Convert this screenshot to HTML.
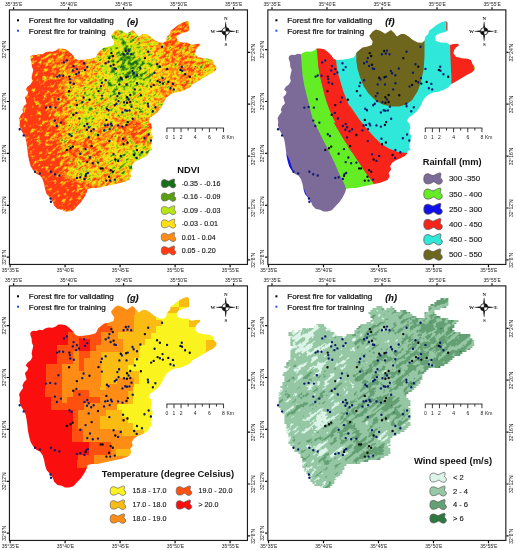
<!DOCTYPE html>
<html><head><meta charset="utf-8"><title>Forest fire conditioning factors</title>
<style>html,body{margin:0;padding:0;background:#fff}svg{display:block}</style></head><body>
<svg width="516" height="550" viewBox="0 0 516 550" font-family="Liberation Sans, Arial, sans-serif">
<defs>
<clipPath id="clip"><path d="M30.7,55.9 L33.3,54.7 L36.6,55.1 L39.1,53.7 L42.5,54.2 L45.0,52.5 L48.3,51.4 L52.5,51.7 L55.8,50.4 L58.3,48.4 L61.7,48.4 L65.9,49.2 L69.2,51.7 L72.6,55.1 L75.1,58.4 L77.6,60.1 L83.4,59.7 L90.1,58.7 L95.2,57.6 L96.7,55.8 L97.9,52.8 L100.9,50.0 L104.2,47.5 L109.3,46.6 L113.4,45.0 L114.3,41.6 L112.6,39.1 L110.9,35.8 L114.3,31.6 L117.6,29.4 L121.8,30.7 L126.8,33.7 L130.2,31.6 L132.7,29.9 L136.0,33.2 L138.5,36.6 L142.7,34.1 L146.1,34.1 L150.2,36.6 L154.4,39.9 L159.4,42.4 L163.6,42.8 L166.1,40.8 L167.0,36.6 L169.9,34.1 L170.7,30.7 L174.0,28.2 L178.2,24.9 L183.3,22.0 L187.4,21.0 L189.1,22.4 L189.1,30.7 L186.6,32.1 L181.6,33.2 L178.2,34.9 L176.6,37.4 L177.4,40.8 L181.6,42.4 L188.3,42.8 L191.6,45.0 L195.0,44.1 L200.0,43.8 L200.3,45.8 L197.5,47.5 L195.8,50.0 L195.0,53.3 L197.5,56.7 L203.3,58.3 L209.2,58.8 L212.5,60.0 L214.2,64.2 L216.7,67.5 L215.9,70.0 L213.4,72.6 L208.3,75.1 L204.2,77.6 L200.0,80.1 L195.8,82.6 L192.5,84.3 L189.9,87.6 L184.9,90.1 L179.9,91.8 L174.9,92.6 L170.7,94.3 L166.5,97.7 L164.0,101.8 L162.3,105.7 L161.1,107.7 L157.8,111.9 L153.6,115.2 L150.2,117.8 L148.6,121.1 L151.1,123.6 L151.9,127.8 L150.7,132.0 L152.8,136.2 L151.9,141.2 L150.7,146.2 L151.9,149.5 L149.4,151.2 L148.6,153.7 L146.1,156.2 L141.0,158.7 L136.9,160.4 L133.5,162.9 L131.8,166.3 L132.7,169.6 L130.2,173.0 L131.3,176.3 L129.3,179.7 L126.0,181.3 L121.0,183.0 L116.8,183.8 L97.5,188.1 L91.8,188.1 L87.6,188.9 L86.8,192.3 L84.3,197.3 L80.9,202.3 L76.8,206.5 L73.4,210.3 L69.2,211.5 L65.0,211.5 L61.7,209.8 L57.5,209.0 L54.2,205.7 L52.5,201.5 L50.0,198.1 L46.6,193.9 L45.0,188.9 L44.1,183.9 L42.5,178.9 L39.9,175.5 L36.6,173.9 L33.3,170.5 L30.7,166.3 L29.1,160.5 L27.9,154.6 L27.4,149.6 L26.6,143.8 L25.7,138.7 L23.2,133.7 L20.7,129.5 L19.5,125.3 L19.9,122.0 L19.0,118.6 L20.7,115.3 L23.2,111.9 L22.4,109.4 L24.0,106.1 L26.6,103.6 L25.7,100.2 L24.9,96.9 L27.4,94.4 L28.2,91.9 L25.7,89.4 L27.4,86.8 L30.7,84.3 L32.4,81.0 L31.6,77.6 L32.4,73.5 L33.3,70.1 L31.9,66.8 L31.6,62.6 L30.2,58.4Z"/></clipPath>
<radialGradient id="gw"><stop offset="0" stop-color="#fff" stop-opacity="1"/><stop offset="0.6" stop-color="#fff" stop-opacity="0.8"/><stop offset="1" stop-color="#fff" stop-opacity="0"/></radialGradient>
<radialGradient id="gb"><stop offset="0" stop-color="#000" stop-opacity="0.75"/><stop offset="0.6" stop-color="#000" stop-opacity="0.5"/><stop offset="1" stop-color="#000" stop-opacity="0"/></radialGradient>
<filter id="fe" x="0" y="0" width="1" height="1" filterUnits="objectBoundingBox" color-interpolation-filters="sRGB"><feTurbulence type="fractalNoise" baseFrequency="0.2 0.36" numOctaves="3" seed="5" result="n"/><feColorMatrix in="n" type="matrix" values="1 0 0 0 0  1 0 0 0 0  1 0 0 0 0  0 0 0 0 1" result="n1"/><feComponentTransfer in="n1" result="n2"><feFuncR type="table" tableValues="0 0.1 0.26 0.39 0.5 0.58 0.65 0.72 0.8 0.9 1"/><feFuncG type="table" tableValues="0 0.1 0.26 0.39 0.5 0.58 0.65 0.72 0.8 0.9 1"/><feFuncB type="table" tableValues="0 0.1 0.26 0.39 0.5 0.58 0.65 0.72 0.8 0.9 1"/></feComponentTransfer><feGaussianBlur in="SourceGraphic" stdDeviation="4.5" result="bl"/><feComposite in="bl" in2="n2" operator="arithmetic" k1="0" k2="1" k3="1.5" k4="-0.86" result="m"/><feComponentTransfer in="m"><feFuncR type="discrete" tableValues="0.102 0.353 0.722 1.000 1.000 1.000"/><feFuncG type="discrete" tableValues="0.431 0.620 0.902 0.878 0.549 0.235"/><feFuncB type="discrete" tableValues="0.102 0.078 0.078 0.078 0.078 0.078"/><feFuncA type="discrete" tableValues="1 1"/></feComponentTransfer><feGaussianBlur stdDeviation="0.5"/></filter>
<clipPath id="clipH"><path d="M30.0,56.0 L32.0,56.0 L32.0,56.0 L34.0,56.0 L34.0,54.0 L36.0,54.0 L36.0,56.0 L38.0,56.0 L38.0,56.0 L40.0,56.0 L40.0,54.0 L42.0,54.0 L42.0,54.0 L44.0,54.0 L44.0,52.0 L46.0,52.0 L46.0,52.0 L48.0,52.0 L48.0,52.0 L50.0,52.0 L50.0,52.0 L52.0,52.0 L52.0,52.0 L54.0,52.0 L54.0,52.0 L56.0,52.0 L56.0,50.0 L58.0,50.0 L58.0,48.0 L60.0,48.0 L60.0,48.0 L62.0,48.0 L62.0,48.0 L64.0,48.0 L64.0,48.0 L66.0,48.0 L66.0,50.0 L68.0,50.0 L68.0,52.0 L70.0,52.0 L70.0,52.0 L72.0,52.0 L72.0,54.0 L72.0,54.0 L72.0,56.0 L74.0,56.0 L74.0,56.0 L76.0,56.0 L76.0,58.0 L78.0,58.0 L78.0,60.0 L80.0,60.0 L80.0,60.0 L82.0,60.0 L82.0,60.0 L84.0,60.0 L84.0,60.0 L86.0,60.0 L86.0,60.0 L88.0,60.0 L88.0,58.0 L90.0,58.0 L90.0,58.0 L92.0,58.0 L92.0,58.0 L94.0,58.0 L94.0,58.0 L96.0,58.0 L96.0,58.0 L96.0,58.0 L96.0,56.0 L96.0,56.0 L96.0,54.0 L98.0,54.0 L98.0,52.0 L100.0,52.0 L100.0,50.0 L102.0,50.0 L102.0,48.0 L104.0,48.0 L104.0,48.0 L106.0,48.0 L106.0,48.0 L108.0,48.0 L108.0,46.0 L110.0,46.0 L110.0,46.0 L112.0,46.0 L112.0,44.0 L114.0,44.0 L114.0,44.0 L114.0,44.0 L114.0,42.0 L112.0,42.0 L112.0,40.0 L112.0,40.0 L112.0,38.0 L110.0,38.0 L110.0,36.0 L112.0,36.0 L112.0,34.0 L114.0,34.0 L114.0,32.0 L116.0,32.0 L116.0,32.0 L118.0,32.0 L118.0,30.0 L120.0,30.0 L120.0,30.0 L122.0,30.0 L122.0,30.0 L124.0,30.0 L124.0,32.0 L126.0,32.0 L126.0,34.0 L128.0,34.0 L128.0,32.0 L130.0,32.0 L130.0,32.0 L132.0,32.0 L132.0,30.0 L134.0,30.0 L134.0,32.0 L136.0,32.0 L136.0,34.0 L138.0,34.0 L138.0,36.0 L140.0,36.0 L140.0,36.0 L142.0,36.0 L142.0,34.0 L144.0,34.0 L144.0,34.0 L146.0,34.0 L146.0,34.0 L148.0,34.0 L148.0,36.0 L150.0,36.0 L150.0,36.0 L152.0,36.0 L152.0,38.0 L154.0,38.0 L154.0,40.0 L156.0,40.0 L156.0,40.0 L158.0,40.0 L158.0,42.0 L160.0,42.0 L160.0,42.0 L162.0,42.0 L162.0,42.0 L164.0,42.0 L164.0,42.0 L166.0,42.0 L166.0,40.0 L166.0,40.0 L166.0,38.0 L166.0,38.0 L166.0,36.0 L168.0,36.0 L168.0,36.0 L170.0,36.0 L170.0,34.0 L170.0,34.0 L170.0,32.0 L170.0,32.0 L170.0,30.0 L172.0,30.0 L172.0,28.0 L174.0,28.0 L174.0,28.0 L176.0,28.0 L176.0,26.0 L178.0,26.0 L178.0,24.0 L180.0,24.0 L180.0,24.0 L182.0,24.0 L182.0,22.0 L184.0,22.0 L184.0,22.0 L186.0,22.0 L186.0,22.0 L188.0,22.0 L188.0,22.0 L190.0,22.0 L190.0,22.0 L190.0,22.0 L190.0,24.0 L190.0,24.0 L190.0,26.0 L190.0,26.0 L190.0,28.0 L190.0,28.0 L190.0,30.0 L188.0,30.0 L188.0,32.0 L186.0,32.0 L186.0,32.0 L184.0,32.0 L184.0,32.0 L182.0,32.0 L182.0,34.0 L180.0,34.0 L180.0,34.0 L178.0,34.0 L178.0,34.0 L176.0,34.0 L176.0,36.0 L176.0,36.0 L176.0,38.0 L178.0,38.0 L178.0,40.0 L180.0,40.0 L180.0,40.0 L182.0,40.0 L182.0,42.0 L184.0,42.0 L184.0,42.0 L186.0,42.0 L186.0,42.0 L188.0,42.0 L188.0,42.0 L190.0,42.0 L190.0,44.0 L192.0,44.0 L192.0,44.0 L194.0,44.0 L194.0,44.0 L196.0,44.0 L196.0,44.0 L198.0,44.0 L198.0,44.0 L200.0,44.0 L200.0,44.0 L200.0,44.0 L200.0,46.0 L198.0,46.0 L198.0,48.0 L196.0,48.0 L196.0,50.0 L196.0,50.0 L196.0,52.0 L194.0,52.0 L194.0,54.0 L196.0,54.0 L196.0,56.0 L198.0,56.0 L198.0,56.0 L200.0,56.0 L200.0,56.0 L202.0,56.0 L202.0,58.0 L204.0,58.0 L204.0,58.0 L206.0,58.0 L206.0,58.0 L208.0,58.0 L208.0,58.0 L210.0,58.0 L210.0,58.0 L212.0,58.0 L212.0,60.0 L212.0,60.0 L212.0,62.0 L214.0,62.0 L214.0,64.0 L216.0,64.0 L216.0,66.0 L216.0,66.0 L216.0,68.0 L216.0,68.0 L216.0,70.0 L214.0,70.0 L214.0,72.0 L212.0,72.0 L212.0,74.0 L210.0,74.0 L210.0,74.0 L208.0,74.0 L208.0,76.0 L206.0,76.0 L206.0,76.0 L204.0,76.0 L204.0,78.0 L202.0,78.0 L202.0,80.0 L200.0,80.0 L200.0,80.0 L198.0,80.0 L198.0,80.0 L196.0,80.0 L196.0,82.0 L194.0,82.0 L194.0,84.0 L192.0,84.0 L192.0,84.0 L192.0,84.0 L192.0,86.0 L190.0,86.0 L190.0,88.0 L188.0,88.0 L188.0,88.0 L186.0,88.0 L186.0,90.0 L184.0,90.0 L184.0,90.0 L182.0,90.0 L182.0,92.0 L180.0,92.0 L180.0,92.0 L178.0,92.0 L178.0,92.0 L176.0,92.0 L176.0,92.0 L174.0,92.0 L174.0,92.0 L172.0,92.0 L172.0,92.0 L170.0,92.0 L170.0,94.0 L168.0,94.0 L168.0,96.0 L166.0,96.0 L166.0,98.0 L164.0,98.0 L164.0,100.0 L164.0,100.0 L164.0,102.0 L164.0,102.0 L164.0,104.0 L162.0,104.0 L162.0,106.0 L162.0,106.0 L162.0,108.0 L160.0,108.0 L160.0,110.0 L158.0,110.0 L158.0,112.0 L156.0,112.0 L156.0,114.0 L154.0,114.0 L154.0,116.0 L152.0,116.0 L152.0,116.0 L150.0,116.0 L150.0,118.0 L148.0,118.0 L148.0,120.0 L148.0,120.0 L148.0,122.0 L150.0,122.0 L150.0,124.0 L152.0,124.0 L152.0,124.0 L152.0,124.0 L152.0,126.0 L152.0,126.0 L152.0,128.0 L152.0,128.0 L152.0,130.0 L150.0,130.0 L150.0,132.0 L152.0,132.0 L152.0,134.0 L152.0,134.0 L152.0,136.0 L152.0,136.0 L152.0,138.0 L152.0,138.0 L152.0,140.0 L152.0,140.0 L152.0,142.0 L152.0,142.0 L152.0,144.0 L150.0,144.0 L150.0,146.0 L152.0,146.0 L152.0,148.0 L152.0,148.0 L152.0,150.0 L150.0,150.0 L150.0,152.0 L148.0,152.0 L148.0,154.0 L146.0,154.0 L146.0,156.0 L144.0,156.0 L144.0,156.0 L142.0,156.0 L142.0,158.0 L140.0,158.0 L140.0,158.0 L138.0,158.0 L138.0,160.0 L136.0,160.0 L136.0,160.0 L134.0,160.0 L134.0,162.0 L132.0,162.0 L132.0,164.0 L132.0,164.0 L132.0,166.0 L132.0,166.0 L132.0,168.0 L132.0,168.0 L132.0,170.0 L130.0,170.0 L130.0,172.0 L132.0,172.0 L132.0,174.0 L132.0,174.0 L132.0,176.0 L132.0,176.0 L132.0,178.0 L130.0,178.0 L130.0,180.0 L128.0,180.0 L128.0,180.0 L126.0,180.0 L126.0,182.0 L124.0,182.0 L124.0,182.0 L122.0,182.0 L122.0,184.0 L120.0,184.0 L120.0,184.0 L118.0,184.0 L118.0,184.0 L116.0,184.0 L116.0,184.0 L114.0,184.0 L114.0,184.0 L112.0,184.0 L112.0,184.0 L110.0,184.0 L110.0,186.0 L108.0,186.0 L108.0,186.0 L106.0,186.0 L106.0,186.0 L104.0,186.0 L104.0,186.0 L102.0,186.0 L102.0,188.0 L100.0,188.0 L100.0,188.0 L98.0,188.0 L98.0,188.0 L96.0,188.0 L96.0,188.0 L94.0,188.0 L94.0,188.0 L92.0,188.0 L92.0,188.0 L90.0,188.0 L90.0,188.0 L88.0,188.0 L88.0,188.0 L88.0,188.0 L88.0,190.0 L86.0,190.0 L86.0,192.0 L86.0,192.0 L86.0,194.0 L84.0,194.0 L84.0,196.0 L84.0,196.0 L84.0,198.0 L82.0,198.0 L82.0,200.0 L80.0,200.0 L80.0,202.0 L78.0,202.0 L78.0,204.0 L76.0,204.0 L76.0,206.0 L76.0,206.0 L76.0,208.0 L74.0,208.0 L74.0,210.0 L72.0,210.0 L72.0,212.0 L70.0,212.0 L70.0,212.0 L68.0,212.0 L68.0,212.0 L66.0,212.0 L66.0,212.0 L64.0,212.0 L64.0,212.0 L62.0,212.0 L62.0,210.0 L60.0,210.0 L60.0,210.0 L58.0,210.0 L58.0,210.0 L56.0,210.0 L56.0,208.0 L54.0,208.0 L54.0,206.0 L52.0,206.0 L52.0,204.0 L52.0,204.0 L52.0,202.0 L52.0,202.0 L52.0,200.0 L50.0,200.0 L50.0,198.0 L48.0,198.0 L48.0,196.0 L46.0,196.0 L46.0,194.0 L46.0,194.0 L46.0,192.0 L44.0,192.0 L44.0,190.0 L44.0,190.0 L44.0,188.0 L44.0,188.0 L44.0,186.0 L44.0,186.0 L44.0,184.0 L44.0,184.0 L44.0,182.0 L42.0,182.0 L42.0,180.0 L42.0,180.0 L42.0,178.0 L40.0,178.0 L40.0,176.0 L38.0,176.0 L38.0,176.0 L36.0,176.0 L36.0,174.0 L36.0,174.0 L36.0,172.0 L34.0,172.0 L34.0,170.0 L32.0,170.0 L32.0,168.0 L30.0,168.0 L30.0,166.0 L30.0,166.0 L30.0,164.0 L30.0,164.0 L30.0,162.0 L30.0,162.0 L30.0,160.0 L30.0,160.0 L30.0,158.0 L28.0,158.0 L28.0,156.0 L28.0,156.0 L28.0,154.0 L28.0,154.0 L28.0,152.0 L28.0,152.0 L28.0,150.0 L28.0,150.0 L28.0,148.0 L26.0,148.0 L26.0,146.0 L26.0,146.0 L26.0,144.0 L26.0,144.0 L26.0,142.0 L26.0,142.0 L26.0,140.0 L26.0,140.0 L26.0,138.0 L24.0,138.0 L24.0,136.0 L24.0,136.0 L24.0,134.0 L22.0,134.0 L22.0,132.0 L20.0,132.0 L20.0,130.0 L20.0,130.0 L20.0,128.0 L20.0,128.0 L20.0,126.0 L20.0,126.0 L20.0,124.0 L20.0,124.0 L20.0,122.0 L20.0,122.0 L20.0,120.0 L20.0,120.0 L20.0,118.0 L20.0,118.0 L20.0,116.0 L22.0,116.0 L22.0,114.0 L24.0,114.0 L24.0,112.0 L22.0,112.0 L22.0,110.0 L24.0,110.0 L24.0,108.0 L24.0,108.0 L24.0,106.0 L26.0,106.0 L26.0,104.0 L26.0,104.0 L26.0,102.0 L26.0,102.0 L26.0,100.0 L24.0,100.0 L24.0,98.0 L24.0,98.0 L24.0,96.0 L26.0,96.0 L26.0,96.0 L28.0,96.0 L28.0,94.0 L28.0,94.0 L28.0,92.0 L26.0,92.0 L26.0,90.0 L28.0,90.0 L28.0,88.0 L28.0,88.0 L28.0,86.0 L30.0,86.0 L30.0,84.0 L32.0,84.0 L32.0,82.0 L32.0,82.0 L32.0,80.0 L32.0,80.0 L32.0,78.0 L32.0,78.0 L32.0,76.0 L32.0,76.0 L32.0,74.0 L32.0,74.0 L32.0,72.0 L34.0,72.0 L34.0,70.0 L32.0,70.0 L32.0,68.0 L32.0,68.0 L32.0,66.0 L32.0,66.0 L32.0,64.0 L32.0,64.0 L32.0,62.0 L32.0,62.0 L32.0,60.0 L30.0,60.0 L30.0,58.0 L30.0,58.0Z"/></clipPath>
<filter id="fh" x="0" y="0" width="1" height="1" color-interpolation-filters="sRGB"><feTurbulence type="fractalNoise" baseFrequency="0.06 0.27" numOctaves="3" seed="11" result="na"/><feTurbulence type="fractalNoise" baseFrequency="0.19" numOctaves="3" seed="4" result="nb"/><feComposite in="na" in2="nb" operator="arithmetic" k1="0" k2="0.62" k3="0.38" k4="0" result="n"/><feColorMatrix in="n" type="matrix" values="1 0 0 0 0  1 0 0 0 0  1 0 0 0 0  0 0 0 0 1" result="n2"/><feGaussianBlur in="SourceGraphic" stdDeviation="3.5" result="bl"/><feComposite in="bl" in2="n2" operator="arithmetic" k1="0" k2="1" k3="1.5" k4="-0.775" result="m"/><feComponentTransfer in="m"><feFuncR type="discrete" tableValues="0.863 0.863 0.863 0.863 0.588 0.588 0.588 0.588 0.588 0.588 0.588 0.588 0.392 0.392 0.392 0.392 0.392 0.392 0.392 0.180"/><feFuncG type="discrete" tableValues="0.961 0.961 0.961 0.961 0.784 0.784 0.784 0.784 0.784 0.784 0.784 0.784 0.627 0.627 0.627 0.627 0.627 0.627 0.627 0.471"/><feFuncB type="discrete" tableValues="0.910 0.910 0.910 0.910 0.647 0.647 0.647 0.647 0.647 0.647 0.647 0.647 0.451 0.451 0.451 0.451 0.451 0.451 0.451 0.251"/><feFuncA type="discrete" tableValues="1 1"/></feComponentTransfer><feGaussianBlur stdDeviation="0.4"/></filter>
<g id="dots"><path d="M65.7,60.4a1.18,1.18 0 1 0 2.36,0a1.18,1.18 0 1 0 -2.36,0zM62.7,62.4a1.18,1.18 0 1 0 2.36,0a1.18,1.18 0 1 0 -2.36,0zM82.9,63.2a1.18,1.18 0 1 0 2.36,0a1.18,1.18 0 1 0 -2.36,0zM86.1,67.1a1.18,1.18 0 1 0 2.36,0a1.18,1.18 0 1 0 -2.36,0zM72.4,66.1a1.18,1.18 0 1 0 2.36,0a1.18,1.18 0 1 0 -2.36,0zM71.6,70.4a1.18,1.18 0 1 0 2.36,0a1.18,1.18 0 1 0 -2.36,0zM75.7,69.1a1.18,1.18 0 1 0 2.36,0a1.18,1.18 0 1 0 -2.36,0zM83.8,69.9a1.18,1.18 0 1 0 2.36,0a1.18,1.18 0 1 0 -2.36,0zM74.9,74.1a1.18,1.18 0 1 0 2.36,0a1.18,1.18 0 1 0 -2.36,0zM77.8,72.4a1.18,1.18 0 1 0 2.36,0a1.18,1.18 0 1 0 -2.36,0zM56.0,76.6a1.18,1.18 0 1 0 2.36,0a1.18,1.18 0 1 0 -2.36,0zM58.2,75.5a1.18,1.18 0 1 0 2.36,0a1.18,1.18 0 1 0 -2.36,0zM62.0,75.8a1.18,1.18 0 1 0 2.36,0a1.18,1.18 0 1 0 -2.36,0zM68.7,79.1a1.18,1.18 0 1 0 2.36,0a1.18,1.18 0 1 0 -2.36,0zM69.1,82.5a1.18,1.18 0 1 0 2.36,0a1.18,1.18 0 1 0 -2.36,0zM72.7,83.7a1.18,1.18 0 1 0 2.36,0a1.18,1.18 0 1 0 -2.36,0zM57.3,99.2a1.18,1.18 0 1 0 2.36,0a1.18,1.18 0 1 0 -2.36,0zM82.4,97.5a1.18,1.18 0 1 0 2.36,0a1.18,1.18 0 1 0 -2.36,0zM81.1,102.1a1.18,1.18 0 1 0 2.36,0a1.18,1.18 0 1 0 -2.36,0zM44.8,107.6a1.18,1.18 0 1 0 2.36,0a1.18,1.18 0 1 0 -2.36,0zM49.0,106.9a1.18,1.18 0 1 0 2.36,0a1.18,1.18 0 1 0 -2.36,0zM54.3,107.6a1.18,1.18 0 1 0 2.36,0a1.18,1.18 0 1 0 -2.36,0zM75.2,112.9a1.18,1.18 0 1 0 2.36,0a1.18,1.18 0 1 0 -2.36,0zM78.3,118.5a1.18,1.18 0 1 0 2.36,0a1.18,1.18 0 1 0 -2.36,0zM53.7,120.6a1.18,1.18 0 1 0 2.36,0a1.18,1.18 0 1 0 -2.36,0zM59.8,122.6a1.18,1.18 0 1 0 2.36,0a1.18,1.18 0 1 0 -2.36,0zM55.7,126.0a1.18,1.18 0 1 0 2.36,0a1.18,1.18 0 1 0 -2.36,0zM83.3,126.0a1.18,1.18 0 1 0 2.36,0a1.18,1.18 0 1 0 -2.36,0zM86.1,124.0a1.18,1.18 0 1 0 2.36,0a1.18,1.18 0 1 0 -2.36,0zM87.5,127.2a1.18,1.18 0 1 0 2.36,0a1.18,1.18 0 1 0 -2.36,0zM92.5,129.3a1.18,1.18 0 1 0 2.36,0a1.18,1.18 0 1 0 -2.36,0zM85.8,129.7a1.18,1.18 0 1 0 2.36,0a1.18,1.18 0 1 0 -2.36,0zM90.0,131.3a1.18,1.18 0 1 0 2.36,0a1.18,1.18 0 1 0 -2.36,0zM18.5,129.3a1.18,1.18 0 1 0 2.36,0a1.18,1.18 0 1 0 -2.36,0zM68.2,134.3a1.18,1.18 0 1 0 2.36,0a1.18,1.18 0 1 0 -2.36,0zM160.9,46.8a1.18,1.18 0 1 0 2.36,0a1.18,1.18 0 1 0 -2.36,0zM147.0,51.8a1.18,1.18 0 1 0 2.36,0a1.18,1.18 0 1 0 -2.36,0zM127.4,50.6a1.18,1.18 0 1 0 2.36,0a1.18,1.18 0 1 0 -2.36,0zM122.4,54.3a1.18,1.18 0 1 0 2.36,0a1.18,1.18 0 1 0 -2.36,0zM126.3,53.5a1.18,1.18 0 1 0 2.36,0a1.18,1.18 0 1 0 -2.36,0zM130.0,54.3a1.18,1.18 0 1 0 2.36,0a1.18,1.18 0 1 0 -2.36,0zM108.2,58.1a1.18,1.18 0 1 0 2.36,0a1.18,1.18 0 1 0 -2.36,0zM107.4,61.8a1.18,1.18 0 1 0 2.36,0a1.18,1.18 0 1 0 -2.36,0zM104.5,63.2a1.18,1.18 0 1 0 2.36,0a1.18,1.18 0 1 0 -2.36,0zM109.5,66.0a1.18,1.18 0 1 0 2.36,0a1.18,1.18 0 1 0 -2.36,0zM113.2,68.5a1.18,1.18 0 1 0 2.36,0a1.18,1.18 0 1 0 -2.36,0zM114.6,68.9a1.18,1.18 0 1 0 2.36,0a1.18,1.18 0 1 0 -2.36,0zM155.9,64.3a1.18,1.18 0 1 0 2.36,0a1.18,1.18 0 1 0 -2.36,0zM165.9,68.9a1.18,1.18 0 1 0 2.36,0a1.18,1.18 0 1 0 -2.36,0zM139.2,68.5a1.18,1.18 0 1 0 2.36,0a1.18,1.18 0 1 0 -2.36,0zM131.3,71.0a1.18,1.18 0 1 0 2.36,0a1.18,1.18 0 1 0 -2.36,0zM132.5,73.2a1.18,1.18 0 1 0 2.36,0a1.18,1.18 0 1 0 -2.36,0zM135.8,75.2a1.18,1.18 0 1 0 2.36,0a1.18,1.18 0 1 0 -2.36,0zM153.4,72.7a1.18,1.18 0 1 0 2.36,0a1.18,1.18 0 1 0 -2.36,0zM126.6,76.6a1.18,1.18 0 1 0 2.36,0a1.18,1.18 0 1 0 -2.36,0zM120.8,79.4a1.18,1.18 0 1 0 2.36,0a1.18,1.18 0 1 0 -2.36,0zM161.4,78.1a1.18,1.18 0 1 0 2.36,0a1.18,1.18 0 1 0 -2.36,0zM158.7,82.2a1.18,1.18 0 1 0 2.36,0a1.18,1.18 0 1 0 -2.36,0zM171.8,83.9a1.18,1.18 0 1 0 2.36,0a1.18,1.18 0 1 0 -2.36,0zM104.5,80.2a1.18,1.18 0 1 0 2.36,0a1.18,1.18 0 1 0 -2.36,0zM100.7,82.7a1.18,1.18 0 1 0 2.36,0a1.18,1.18 0 1 0 -2.36,0zM99.8,86.1a1.18,1.18 0 1 0 2.36,0a1.18,1.18 0 1 0 -2.36,0zM118.2,84.4a1.18,1.18 0 1 0 2.36,0a1.18,1.18 0 1 0 -2.36,0zM125.4,84.4a1.18,1.18 0 1 0 2.36,0a1.18,1.18 0 1 0 -2.36,0zM135.8,83.2a1.18,1.18 0 1 0 2.36,0a1.18,1.18 0 1 0 -2.36,0zM150.0,86.6a1.18,1.18 0 1 0 2.36,0a1.18,1.18 0 1 0 -2.36,0zM169.3,88.3a1.18,1.18 0 1 0 2.36,0a1.18,1.18 0 1 0 -2.36,0zM172.6,89.4a1.18,1.18 0 1 0 2.36,0a1.18,1.18 0 1 0 -2.36,0zM133.6,89.4a1.18,1.18 0 1 0 2.36,0a1.18,1.18 0 1 0 -2.36,0zM117.9,93.3a1.18,1.18 0 1 0 2.36,0a1.18,1.18 0 1 0 -2.36,0zM100.7,95.6a1.18,1.18 0 1 0 2.36,0a1.18,1.18 0 1 0 -2.36,0zM116.2,96.1a1.18,1.18 0 1 0 2.36,0a1.18,1.18 0 1 0 -2.36,0zM127.4,99.5a1.18,1.18 0 1 0 2.36,0a1.18,1.18 0 1 0 -2.36,0zM117.4,101.1a1.18,1.18 0 1 0 2.36,0a1.18,1.18 0 1 0 -2.36,0zM122.9,102.3a1.18,1.18 0 1 0 2.36,0a1.18,1.18 0 1 0 -2.36,0zM115.2,103.7a1.18,1.18 0 1 0 2.36,0a1.18,1.18 0 1 0 -2.36,0zM113.6,105.3a1.18,1.18 0 1 0 2.36,0a1.18,1.18 0 1 0 -2.36,0zM146.7,103.7a1.18,1.18 0 1 0 2.36,0a1.18,1.18 0 1 0 -2.36,0zM147.0,106.2a1.18,1.18 0 1 0 2.36,0a1.18,1.18 0 1 0 -2.36,0zM154.2,107.3a1.18,1.18 0 1 0 2.36,0a1.18,1.18 0 1 0 -2.36,0zM130.3,106.7a1.18,1.18 0 1 0 2.36,0a1.18,1.18 0 1 0 -2.36,0zM105.7,108.7a1.18,1.18 0 1 0 2.36,0a1.18,1.18 0 1 0 -2.36,0zM107.4,110.3a1.18,1.18 0 1 0 2.36,0a1.18,1.18 0 1 0 -2.36,0zM124.1,110.3a1.18,1.18 0 1 0 2.36,0a1.18,1.18 0 1 0 -2.36,0zM151.7,111.2a1.18,1.18 0 1 0 2.36,0a1.18,1.18 0 1 0 -2.36,0zM183.9,74.2a1.18,1.18 0 1 0 2.36,0a1.18,1.18 0 1 0 -2.36,0zM180.6,66.7a1.18,1.18 0 1 0 2.36,0a1.18,1.18 0 1 0 -2.36,0zM180.9,70.8a1.18,1.18 0 1 0 2.36,0a1.18,1.18 0 1 0 -2.36,0zM22.5,135.4a1.18,1.18 0 1 0 2.36,0a1.18,1.18 0 1 0 -2.36,0zM70.4,136.0a1.18,1.18 0 1 0 2.36,0a1.18,1.18 0 1 0 -2.36,0zM87.5,137.4a1.18,1.18 0 1 0 2.36,0a1.18,1.18 0 1 0 -2.36,0zM84.4,149.1a1.18,1.18 0 1 0 2.36,0a1.18,1.18 0 1 0 -2.36,0zM79.1,153.8a1.18,1.18 0 1 0 2.36,0a1.18,1.18 0 1 0 -2.36,0zM88.8,157.5a1.18,1.18 0 1 0 2.36,0a1.18,1.18 0 1 0 -2.36,0zM86.1,162.1a1.18,1.18 0 1 0 2.36,0a1.18,1.18 0 1 0 -2.36,0zM91.6,163.3a1.18,1.18 0 1 0 2.36,0a1.18,1.18 0 1 0 -2.36,0zM33.9,171.7a1.18,1.18 0 1 0 2.36,0a1.18,1.18 0 1 0 -2.36,0zM38.6,173.4a1.18,1.18 0 1 0 2.36,0a1.18,1.18 0 1 0 -2.36,0zM49.8,171.7a1.18,1.18 0 1 0 2.36,0a1.18,1.18 0 1 0 -2.36,0zM53.7,174.2a1.18,1.18 0 1 0 2.36,0a1.18,1.18 0 1 0 -2.36,0zM58.2,175.5a1.18,1.18 0 1 0 2.36,0a1.18,1.18 0 1 0 -2.36,0zM86.6,172.9a1.18,1.18 0 1 0 2.36,0a1.18,1.18 0 1 0 -2.36,0zM84.9,174.2a1.18,1.18 0 1 0 2.36,0a1.18,1.18 0 1 0 -2.36,0zM75.7,177.9a1.18,1.18 0 1 0 2.36,0a1.18,1.18 0 1 0 -2.36,0zM79.1,177.2a1.18,1.18 0 1 0 2.36,0a1.18,1.18 0 1 0 -2.36,0zM83.3,178.9a1.18,1.18 0 1 0 2.36,0a1.18,1.18 0 1 0 -2.36,0zM49.3,198.5a1.18,1.18 0 1 0 2.36,0a1.18,1.18 0 1 0 -2.36,0zM49.8,201.8a1.18,1.18 0 1 0 2.36,0a1.18,1.18 0 1 0 -2.36,0zM125.8,110.7a1.18,1.18 0 1 0 2.36,0a1.18,1.18 0 1 0 -2.36,0zM128.3,110.4a1.18,1.18 0 1 0 2.36,0a1.18,1.18 0 1 0 -2.36,0zM121.3,112.4a1.18,1.18 0 1 0 2.36,0a1.18,1.18 0 1 0 -2.36,0zM131.6,118.7a1.18,1.18 0 1 0 2.36,0a1.18,1.18 0 1 0 -2.36,0zM109.9,123.7a1.18,1.18 0 1 0 2.36,0a1.18,1.18 0 1 0 -2.36,0zM104.0,125.4a1.18,1.18 0 1 0 2.36,0a1.18,1.18 0 1 0 -2.36,0zM106.5,124.9a1.18,1.18 0 1 0 2.36,0a1.18,1.18 0 1 0 -2.36,0zM110.7,125.4a1.18,1.18 0 1 0 2.36,0a1.18,1.18 0 1 0 -2.36,0zM116.9,125.4a1.18,1.18 0 1 0 2.36,0a1.18,1.18 0 1 0 -2.36,0zM121.3,126.6a1.18,1.18 0 1 0 2.36,0a1.18,1.18 0 1 0 -2.36,0zM108.5,129.1a1.18,1.18 0 1 0 2.36,0a1.18,1.18 0 1 0 -2.36,0zM102.9,130.4a1.18,1.18 0 1 0 2.36,0a1.18,1.18 0 1 0 -2.36,0zM147.5,134.5a1.18,1.18 0 1 0 2.36,0a1.18,1.18 0 1 0 -2.36,0zM143.3,138.3a1.18,1.18 0 1 0 2.36,0a1.18,1.18 0 1 0 -2.36,0zM121.9,138.8a1.18,1.18 0 1 0 2.36,0a1.18,1.18 0 1 0 -2.36,0zM149.7,140.5a1.18,1.18 0 1 0 2.36,0a1.18,1.18 0 1 0 -2.36,0zM108.2,141.1a1.18,1.18 0 1 0 2.36,0a1.18,1.18 0 1 0 -2.36,0zM135.8,150.0a1.18,1.18 0 1 0 2.36,0a1.18,1.18 0 1 0 -2.36,0zM140.8,152.2a1.18,1.18 0 1 0 2.36,0a1.18,1.18 0 1 0 -2.36,0zM112.4,154.2a1.18,1.18 0 1 0 2.36,0a1.18,1.18 0 1 0 -2.36,0zM119.6,155.9a1.18,1.18 0 1 0 2.36,0a1.18,1.18 0 1 0 -2.36,0zM135.5,157.9a1.18,1.18 0 1 0 2.36,0a1.18,1.18 0 1 0 -2.36,0zM116.9,160.9a1.18,1.18 0 1 0 2.36,0a1.18,1.18 0 1 0 -2.36,0zM96.8,162.6a1.18,1.18 0 1 0 2.36,0a1.18,1.18 0 1 0 -2.36,0zM109.0,180.6a1.18,1.18 0 1 0 2.36,0a1.18,1.18 0 1 0 -2.36,0zM113.6,179.6a1.18,1.18 0 1 0 2.36,0a1.18,1.18 0 1 0 -2.36,0z" fill="#0c1a6e"/><path d="M68.2,76.6a1.18,1.18 0 1 0 2.36,0a1.18,1.18 0 1 0 -2.36,0zM67.9,91.2a1.18,1.18 0 1 0 2.36,0a1.18,1.18 0 1 0 -2.36,0zM88.3,99.7a1.18,1.18 0 1 0 2.36,0a1.18,1.18 0 1 0 -2.36,0zM75.7,105.1a1.18,1.18 0 1 0 2.36,0a1.18,1.18 0 1 0 -2.36,0zM72.1,114.8a1.18,1.18 0 1 0 2.36,0a1.18,1.18 0 1 0 -2.36,0zM124.6,51.0a1.18,1.18 0 1 0 2.36,0a1.18,1.18 0 1 0 -2.36,0zM110.2,53.1a1.18,1.18 0 1 0 2.36,0a1.18,1.18 0 1 0 -2.36,0zM111.6,56.0a1.18,1.18 0 1 0 2.36,0a1.18,1.18 0 1 0 -2.36,0zM143.7,58.1a1.18,1.18 0 1 0 2.36,0a1.18,1.18 0 1 0 -2.36,0zM112.4,64.8a1.18,1.18 0 1 0 2.36,0a1.18,1.18 0 1 0 -2.36,0zM158.7,66.8a1.18,1.18 0 1 0 2.36,0a1.18,1.18 0 1 0 -2.36,0zM179.3,69.9a1.18,1.18 0 1 0 2.36,0a1.18,1.18 0 1 0 -2.36,0zM119.6,77.7a1.18,1.18 0 1 0 2.36,0a1.18,1.18 0 1 0 -2.36,0zM124.9,77.2a1.18,1.18 0 1 0 2.36,0a1.18,1.18 0 1 0 -2.36,0zM156.4,81.1a1.18,1.18 0 1 0 2.36,0a1.18,1.18 0 1 0 -2.36,0zM161.7,83.6a1.18,1.18 0 1 0 2.36,0a1.18,1.18 0 1 0 -2.36,0zM167.1,81.9a1.18,1.18 0 1 0 2.36,0a1.18,1.18 0 1 0 -2.36,0zM152.5,84.9a1.18,1.18 0 1 0 2.36,0a1.18,1.18 0 1 0 -2.36,0zM97.3,91.1a1.18,1.18 0 1 0 2.36,0a1.18,1.18 0 1 0 -2.36,0zM129.1,95.0a1.18,1.18 0 1 0 2.36,0a1.18,1.18 0 1 0 -2.36,0zM139.7,95.3a1.18,1.18 0 1 0 2.36,0a1.18,1.18 0 1 0 -2.36,0zM125.8,97.3a1.18,1.18 0 1 0 2.36,0a1.18,1.18 0 1 0 -2.36,0zM125.8,102.8a1.18,1.18 0 1 0 2.36,0a1.18,1.18 0 1 0 -2.36,0zM129.1,102.0a1.18,1.18 0 1 0 2.36,0a1.18,1.18 0 1 0 -2.36,0zM188.6,76.7a1.18,1.18 0 1 0 2.36,0a1.18,1.18 0 1 0 -2.36,0zM71.6,146.6a1.18,1.18 0 1 0 2.36,0a1.18,1.18 0 1 0 -2.36,0zM69.4,148.3a1.18,1.18 0 1 0 2.36,0a1.18,1.18 0 1 0 -2.36,0zM65.7,149.9a1.18,1.18 0 1 0 2.36,0a1.18,1.18 0 1 0 -2.36,0zM90.5,146.1a1.18,1.18 0 1 0 2.36,0a1.18,1.18 0 1 0 -2.36,0zM84.4,175.9a1.18,1.18 0 1 0 2.36,0a1.18,1.18 0 1 0 -2.36,0zM105.2,119.9a1.18,1.18 0 1 0 2.36,0a1.18,1.18 0 1 0 -2.36,0zM126.6,122.1a1.18,1.18 0 1 0 2.36,0a1.18,1.18 0 1 0 -2.36,0zM125.3,124.9a1.18,1.18 0 1 0 2.36,0a1.18,1.18 0 1 0 -2.36,0zM96.8,135.0a1.18,1.18 0 1 0 2.36,0a1.18,1.18 0 1 0 -2.36,0zM126.3,142.5a1.18,1.18 0 1 0 2.36,0a1.18,1.18 0 1 0 -2.36,0zM122.4,144.2a1.18,1.18 0 1 0 2.36,0a1.18,1.18 0 1 0 -2.36,0zM133.0,155.0a1.18,1.18 0 1 0 2.36,0a1.18,1.18 0 1 0 -2.36,0zM114.1,159.5a1.18,1.18 0 1 0 2.36,0a1.18,1.18 0 1 0 -2.36,0zM99.5,168.4a1.18,1.18 0 1 0 2.36,0a1.18,1.18 0 1 0 -2.36,0zM101.5,168.4a1.18,1.18 0 1 0 2.36,0a1.18,1.18 0 1 0 -2.36,0zM109.5,170.1a1.18,1.18 0 1 0 2.36,0a1.18,1.18 0 1 0 -2.36,0zM111.6,171.8a1.18,1.18 0 1 0 2.36,0a1.18,1.18 0 1 0 -2.36,0zM107.9,176.8a1.18,1.18 0 1 0 2.36,0a1.18,1.18 0 1 0 -2.36,0zM105.2,180.6a1.18,1.18 0 1 0 2.36,0a1.18,1.18 0 1 0 -2.36,0z" fill="#0a0a0a"/></g>
</defs>
<rect width="516" height="550" fill="#fff"/>
<g transform="translate(0,0)">
<g clip-path="url(#clip)">
<g transform="rotate(-35 120 120)"><g filter="url(#fe)"><g transform="rotate(35 120 120)">
<rect x="12" y="12" width="12.5" height="12.5" fill="#fcfcfc"/>
<rect x="24" y="12" width="12.5" height="12.5" fill="#fcfcfc"/>
<rect x="36" y="12" width="12.5" height="12.5" fill="#ebebeb"/>
<rect x="48" y="12" width="12.5" height="12.5" fill="#d0d0d0"/>
<rect x="60" y="12" width="12.5" height="12.5" fill="#e0e0e0"/>
<rect x="72" y="12" width="12.5" height="12.5" fill="#e0e0e0"/>
<rect x="84" y="12" width="12.5" height="12.5" fill="#747474"/>
<rect x="96" y="12" width="12.5" height="12.5" fill="#747474"/>
<rect x="108" y="12" width="12.5" height="12.5" fill="#747474"/>
<rect x="120" y="12" width="12.5" height="12.5" fill="#848484"/>
<rect x="132" y="12" width="12.5" height="12.5" fill="#9f9f9f"/>
<rect x="144" y="12" width="12.5" height="12.5" fill="#8f8f8f"/>
<rect x="156" y="12" width="12.5" height="12.5" fill="#d0d0d0"/>
<rect x="168" y="12" width="12.5" height="12.5" fill="#d0d0d0"/>
<rect x="180" y="12" width="12.5" height="12.5" fill="#d0d0d0"/>
<rect x="192" y="12" width="12.5" height="12.5" fill="#d0d0d0"/>
<rect x="204" y="12" width="12.5" height="12.5" fill="#b5b5b5"/>
<rect x="216" y="12" width="12.5" height="12.5" fill="#b5b5b5"/>
<rect x="228" y="12" width="12.5" height="12.5" fill="#9f9f9f"/>
<rect x="12" y="24" width="12.5" height="12.5" fill="#fcfcfc"/>
<rect x="24" y="24" width="12.5" height="12.5" fill="#fcfcfc"/>
<rect x="36" y="24" width="12.5" height="12.5" fill="#ebebeb"/>
<rect x="48" y="24" width="12.5" height="12.5" fill="#d0d0d0"/>
<rect x="60" y="24" width="12.5" height="12.5" fill="#e0e0e0"/>
<rect x="72" y="24" width="12.5" height="12.5" fill="#e0e0e0"/>
<rect x="84" y="24" width="12.5" height="12.5" fill="#747474"/>
<rect x="96" y="24" width="12.5" height="12.5" fill="#747474"/>
<rect x="108" y="24" width="12.5" height="12.5" fill="#747474"/>
<rect x="120" y="24" width="12.5" height="12.5" fill="#848484"/>
<rect x="132" y="24" width="12.5" height="12.5" fill="#9f9f9f"/>
<rect x="144" y="24" width="12.5" height="12.5" fill="#8f8f8f"/>
<rect x="156" y="24" width="12.5" height="12.5" fill="#d0d0d0"/>
<rect x="168" y="24" width="12.5" height="12.5" fill="#d0d0d0"/>
<rect x="180" y="24" width="12.5" height="12.5" fill="#d0d0d0"/>
<rect x="192" y="24" width="12.5" height="12.5" fill="#d0d0d0"/>
<rect x="204" y="24" width="12.5" height="12.5" fill="#b5b5b5"/>
<rect x="216" y="24" width="12.5" height="12.5" fill="#b5b5b5"/>
<rect x="228" y="24" width="12.5" height="12.5" fill="#9f9f9f"/>
<rect x="12" y="36" width="12.5" height="12.5" fill="#fcfcfc"/>
<rect x="24" y="36" width="12.5" height="12.5" fill="#fcfcfc"/>
<rect x="36" y="36" width="12.5" height="12.5" fill="#ebebeb"/>
<rect x="48" y="36" width="12.5" height="12.5" fill="#d0d0d0"/>
<rect x="60" y="36" width="12.5" height="12.5" fill="#e0e0e0"/>
<rect x="72" y="36" width="12.5" height="12.5" fill="#e0e0e0"/>
<rect x="84" y="36" width="12.5" height="12.5" fill="#c5c5c5"/>
<rect x="96" y="36" width="12.5" height="12.5" fill="#747474"/>
<rect x="108" y="36" width="12.5" height="12.5" fill="#747474"/>
<rect x="120" y="36" width="12.5" height="12.5" fill="#696969"/>
<rect x="132" y="36" width="12.5" height="12.5" fill="#8f8f8f"/>
<rect x="144" y="36" width="12.5" height="12.5" fill="#9f9f9f"/>
<rect x="156" y="36" width="12.5" height="12.5" fill="#c5c5c5"/>
<rect x="168" y="36" width="12.5" height="12.5" fill="#cbcbcb"/>
<rect x="180" y="36" width="12.5" height="12.5" fill="#c5c5c5"/>
<rect x="192" y="36" width="12.5" height="12.5" fill="#b5b5b5"/>
<rect x="204" y="36" width="12.5" height="12.5" fill="#b5b5b5"/>
<rect x="216" y="36" width="12.5" height="12.5" fill="#9f9f9f"/>
<rect x="228" y="36" width="12.5" height="12.5" fill="#9f9f9f"/>
<rect x="12" y="48" width="12.5" height="12.5" fill="#fcfcfc"/>
<rect x="24" y="48" width="12.5" height="12.5" fill="#fcfcfc"/>
<rect x="36" y="48" width="12.5" height="12.5" fill="#ebebeb"/>
<rect x="48" y="48" width="12.5" height="12.5" fill="#d0d0d0"/>
<rect x="60" y="48" width="12.5" height="12.5" fill="#e0e0e0"/>
<rect x="72" y="48" width="12.5" height="12.5" fill="#e0e0e0"/>
<rect x="84" y="48" width="12.5" height="12.5" fill="#c5c5c5"/>
<rect x="96" y="48" width="12.5" height="12.5" fill="#9f9f9f"/>
<rect x="108" y="48" width="12.5" height="12.5" fill="#747474"/>
<rect x="120" y="48" width="12.5" height="12.5" fill="#3d3d3d"/>
<rect x="132" y="48" width="12.5" height="12.5" fill="#696969"/>
<rect x="144" y="48" width="12.5" height="12.5" fill="#949494"/>
<rect x="156" y="48" width="12.5" height="12.5" fill="#aaaaaa"/>
<rect x="168" y="48" width="12.5" height="12.5" fill="#c5c5c5"/>
<rect x="180" y="48" width="12.5" height="12.5" fill="#c0c0c0"/>
<rect x="192" y="48" width="12.5" height="12.5" fill="#afafaf"/>
<rect x="204" y="48" width="12.5" height="12.5" fill="#9f9f9f"/>
<rect x="216" y="48" width="12.5" height="12.5" fill="#9f9f9f"/>
<rect x="228" y="48" width="12.5" height="12.5" fill="#9f9f9f"/>
<rect x="12" y="60" width="12.5" height="12.5" fill="#fcfcfc"/>
<rect x="24" y="60" width="12.5" height="12.5" fill="#fcfcfc"/>
<rect x="36" y="60" width="12.5" height="12.5" fill="#e6e6e6"/>
<rect x="48" y="60" width="12.5" height="12.5" fill="#c0c0c0"/>
<rect x="60" y="60" width="12.5" height="12.5" fill="#c5c5c5"/>
<rect x="72" y="60" width="12.5" height="12.5" fill="#d6d6d6"/>
<rect x="84" y="60" width="12.5" height="12.5" fill="#afafaf"/>
<rect x="96" y="60" width="12.5" height="12.5" fill="#8f8f8f"/>
<rect x="108" y="60" width="12.5" height="12.5" fill="#747474"/>
<rect x="120" y="60" width="12.5" height="12.5" fill="#323232"/>
<rect x="132" y="60" width="12.5" height="12.5" fill="#4e4e4e"/>
<rect x="144" y="60" width="12.5" height="12.5" fill="#797979"/>
<rect x="156" y="60" width="12.5" height="12.5" fill="#a5a5a5"/>
<rect x="168" y="60" width="12.5" height="12.5" fill="#b5b5b5"/>
<rect x="180" y="60" width="12.5" height="12.5" fill="#c0c0c0"/>
<rect x="192" y="60" width="12.5" height="12.5" fill="#aaaaaa"/>
<rect x="204" y="60" width="12.5" height="12.5" fill="#9a9a9a"/>
<rect x="216" y="60" width="12.5" height="12.5" fill="#9a9a9a"/>
<rect x="228" y="60" width="12.5" height="12.5" fill="#9a9a9a"/>
<rect x="12" y="72" width="12.5" height="12.5" fill="#fcfcfc"/>
<rect x="24" y="72" width="12.5" height="12.5" fill="#fcfcfc"/>
<rect x="36" y="72" width="12.5" height="12.5" fill="#f6f6f6"/>
<rect x="48" y="72" width="12.5" height="12.5" fill="#d6d6d6"/>
<rect x="60" y="72" width="12.5" height="12.5" fill="#b5b5b5"/>
<rect x="72" y="72" width="12.5" height="12.5" fill="#c5c5c5"/>
<rect x="84" y="72" width="12.5" height="12.5" fill="#aaaaaa"/>
<rect x="96" y="72" width="12.5" height="12.5" fill="#898989"/>
<rect x="108" y="72" width="12.5" height="12.5" fill="#696969"/>
<rect x="120" y="72" width="12.5" height="12.5" fill="#585858"/>
<rect x="132" y="72" width="12.5" height="12.5" fill="#4e4e4e"/>
<rect x="144" y="72" width="12.5" height="12.5" fill="#747474"/>
<rect x="156" y="72" width="12.5" height="12.5" fill="#a5a5a5"/>
<rect x="168" y="72" width="12.5" height="12.5" fill="#afafaf"/>
<rect x="180" y="72" width="12.5" height="12.5" fill="#bababa"/>
<rect x="192" y="72" width="12.5" height="12.5" fill="#aaaaaa"/>
<rect x="204" y="72" width="12.5" height="12.5" fill="#9a9a9a"/>
<rect x="216" y="72" width="12.5" height="12.5" fill="#9a9a9a"/>
<rect x="228" y="72" width="12.5" height="12.5" fill="#9a9a9a"/>
<rect x="12" y="84" width="12.5" height="12.5" fill="#fcfcfc"/>
<rect x="24" y="84" width="12.5" height="12.5" fill="#fcfcfc"/>
<rect x="36" y="84" width="12.5" height="12.5" fill="#f6f6f6"/>
<rect x="48" y="84" width="12.5" height="12.5" fill="#e0e0e0"/>
<rect x="60" y="84" width="12.5" height="12.5" fill="#c0c0c0"/>
<rect x="72" y="84" width="12.5" height="12.5" fill="#8f8f8f"/>
<rect x="84" y="84" width="12.5" height="12.5" fill="#747474"/>
<rect x="96" y="84" width="12.5" height="12.5" fill="#848484"/>
<rect x="108" y="84" width="12.5" height="12.5" fill="#636363"/>
<rect x="120" y="84" width="12.5" height="12.5" fill="#7e7e7e"/>
<rect x="132" y="84" width="12.5" height="12.5" fill="#797979"/>
<rect x="144" y="84" width="12.5" height="12.5" fill="#8f8f8f"/>
<rect x="156" y="84" width="12.5" height="12.5" fill="#aaaaaa"/>
<rect x="168" y="84" width="12.5" height="12.5" fill="#afafaf"/>
<rect x="180" y="84" width="12.5" height="12.5" fill="#bababa"/>
<rect x="192" y="84" width="12.5" height="12.5" fill="#aaaaaa"/>
<rect x="204" y="84" width="12.5" height="12.5" fill="#aaaaaa"/>
<rect x="216" y="84" width="12.5" height="12.5" fill="#9a9a9a"/>
<rect x="228" y="84" width="12.5" height="12.5" fill="#9a9a9a"/>
<rect x="12" y="96" width="12.5" height="12.5" fill="#fcfcfc"/>
<rect x="24" y="96" width="12.5" height="12.5" fill="#fcfcfc"/>
<rect x="36" y="96" width="12.5" height="12.5" fill="#f6f6f6"/>
<rect x="48" y="96" width="12.5" height="12.5" fill="#e0e0e0"/>
<rect x="60" y="96" width="12.5" height="12.5" fill="#bababa"/>
<rect x="72" y="96" width="12.5" height="12.5" fill="#8f8f8f"/>
<rect x="84" y="96" width="12.5" height="12.5" fill="#8f8f8f"/>
<rect x="96" y="96" width="12.5" height="12.5" fill="#9f9f9f"/>
<rect x="108" y="96" width="12.5" height="12.5" fill="#848484"/>
<rect x="120" y="96" width="12.5" height="12.5" fill="#848484"/>
<rect x="132" y="96" width="12.5" height="12.5" fill="#7e7e7e"/>
<rect x="144" y="96" width="12.5" height="12.5" fill="#949494"/>
<rect x="156" y="96" width="12.5" height="12.5" fill="#aaaaaa"/>
<rect x="168" y="96" width="12.5" height="12.5" fill="#afafaf"/>
<rect x="180" y="96" width="12.5" height="12.5" fill="#afafaf"/>
<rect x="192" y="96" width="12.5" height="12.5" fill="#aaaaaa"/>
<rect x="204" y="96" width="12.5" height="12.5" fill="#aaaaaa"/>
<rect x="216" y="96" width="12.5" height="12.5" fill="#aaaaaa"/>
<rect x="228" y="96" width="12.5" height="12.5" fill="#9a9a9a"/>
<rect x="12" y="108" width="12.5" height="12.5" fill="#fcfcfc"/>
<rect x="24" y="108" width="12.5" height="12.5" fill="#fcfcfc"/>
<rect x="36" y="108" width="12.5" height="12.5" fill="#f1f1f1"/>
<rect x="48" y="108" width="12.5" height="12.5" fill="#d0d0d0"/>
<rect x="60" y="108" width="12.5" height="12.5" fill="#afafaf"/>
<rect x="72" y="108" width="12.5" height="12.5" fill="#a5a5a5"/>
<rect x="84" y="108" width="12.5" height="12.5" fill="#6e6e6e"/>
<rect x="96" y="108" width="12.5" height="12.5" fill="#8f8f8f"/>
<rect x="108" y="108" width="12.5" height="12.5" fill="#8f8f8f"/>
<rect x="120" y="108" width="12.5" height="12.5" fill="#8c8c8c"/>
<rect x="132" y="108" width="12.5" height="12.5" fill="#878787"/>
<rect x="144" y="108" width="12.5" height="12.5" fill="#818181"/>
<rect x="156" y="108" width="12.5" height="12.5" fill="#bababa"/>
<rect x="168" y="108" width="12.5" height="12.5" fill="#bababa"/>
<rect x="180" y="108" width="12.5" height="12.5" fill="#c0c0c0"/>
<rect x="192" y="108" width="12.5" height="12.5" fill="#c0c0c0"/>
<rect x="204" y="108" width="12.5" height="12.5" fill="#bababa"/>
<rect x="216" y="108" width="12.5" height="12.5" fill="#bababa"/>
<rect x="228" y="108" width="12.5" height="12.5" fill="#bababa"/>
<rect x="12" y="120" width="12.5" height="12.5" fill="#fcfcfc"/>
<rect x="24" y="120" width="12.5" height="12.5" fill="#f6f6f6"/>
<rect x="36" y="120" width="12.5" height="12.5" fill="#e6e6e6"/>
<rect x="48" y="120" width="12.5" height="12.5" fill="#d6d6d6"/>
<rect x="60" y="120" width="12.5" height="12.5" fill="#b5b5b5"/>
<rect x="72" y="120" width="12.5" height="12.5" fill="#797979"/>
<rect x="84" y="120" width="12.5" height="12.5" fill="#7e7e7e"/>
<rect x="96" y="120" width="12.5" height="12.5" fill="#aaaaaa"/>
<rect x="108" y="120" width="12.5" height="12.5" fill="#aaaaaa"/>
<rect x="120" y="120" width="12.5" height="12.5" fill="#c8c8c8"/>
<rect x="132" y="120" width="12.5" height="12.5" fill="#d8d8d8"/>
<rect x="144" y="120" width="12.5" height="12.5" fill="#b8b8b8"/>
<rect x="156" y="120" width="12.5" height="12.5" fill="#c0c0c0"/>
<rect x="168" y="120" width="12.5" height="12.5" fill="#c0c0c0"/>
<rect x="180" y="120" width="12.5" height="12.5" fill="#bababa"/>
<rect x="192" y="120" width="12.5" height="12.5" fill="#c0c0c0"/>
<rect x="204" y="120" width="12.5" height="12.5" fill="#bababa"/>
<rect x="216" y="120" width="12.5" height="12.5" fill="#bababa"/>
<rect x="228" y="120" width="12.5" height="12.5" fill="#bababa"/>
<rect x="12" y="132" width="12.5" height="12.5" fill="#fcfcfc"/>
<rect x="24" y="132" width="12.5" height="12.5" fill="#fcfcfc"/>
<rect x="36" y="132" width="12.5" height="12.5" fill="#ebebeb"/>
<rect x="48" y="132" width="12.5" height="12.5" fill="#dbdbdb"/>
<rect x="60" y="132" width="12.5" height="12.5" fill="#898989"/>
<rect x="72" y="132" width="12.5" height="12.5" fill="#bababa"/>
<rect x="84" y="132" width="12.5" height="12.5" fill="#c0c0c0"/>
<rect x="96" y="132" width="12.5" height="12.5" fill="#bababa"/>
<rect x="108" y="132" width="12.5" height="12.5" fill="#afafaf"/>
<rect x="120" y="132" width="12.5" height="12.5" fill="#cdcdcd"/>
<rect x="132" y="132" width="12.5" height="12.5" fill="#d3d3d3"/>
<rect x="144" y="132" width="12.5" height="12.5" fill="#b2b2b2"/>
<rect x="156" y="132" width="12.5" height="12.5" fill="#bababa"/>
<rect x="168" y="132" width="12.5" height="12.5" fill="#bababa"/>
<rect x="180" y="132" width="12.5" height="12.5" fill="#bababa"/>
<rect x="192" y="132" width="12.5" height="12.5" fill="#bababa"/>
<rect x="204" y="132" width="12.5" height="12.5" fill="#c0c0c0"/>
<rect x="216" y="132" width="12.5" height="12.5" fill="#bababa"/>
<rect x="228" y="132" width="12.5" height="12.5" fill="#bababa"/>
<rect x="12" y="144" width="12.5" height="12.5" fill="#fcfcfc"/>
<rect x="24" y="144" width="12.5" height="12.5" fill="#fcfcfc"/>
<rect x="36" y="144" width="12.5" height="12.5" fill="#f6f6f6"/>
<rect x="48" y="144" width="12.5" height="12.5" fill="#e6e6e6"/>
<rect x="60" y="144" width="12.5" height="12.5" fill="#c5c5c5"/>
<rect x="72" y="144" width="12.5" height="12.5" fill="#c5c5c5"/>
<rect x="84" y="144" width="12.5" height="12.5" fill="#d0d0d0"/>
<rect x="96" y="144" width="12.5" height="12.5" fill="#b5b5b5"/>
<rect x="108" y="144" width="12.5" height="12.5" fill="#949494"/>
<rect x="120" y="144" width="12.5" height="12.5" fill="#878787"/>
<rect x="132" y="144" width="12.5" height="12.5" fill="#717171"/>
<rect x="144" y="144" width="12.5" height="12.5" fill="#767676"/>
<rect x="156" y="144" width="12.5" height="12.5" fill="#8f8f8f"/>
<rect x="168" y="144" width="12.5" height="12.5" fill="#8f8f8f"/>
<rect x="180" y="144" width="12.5" height="12.5" fill="#8f8f8f"/>
<rect x="192" y="144" width="12.5" height="12.5" fill="#8f8f8f"/>
<rect x="204" y="144" width="12.5" height="12.5" fill="#8f8f8f"/>
<rect x="216" y="144" width="12.5" height="12.5" fill="#8f8f8f"/>
<rect x="228" y="144" width="12.5" height="12.5" fill="#bababa"/>
<rect x="12" y="156" width="12.5" height="12.5" fill="#fcfcfc"/>
<rect x="24" y="156" width="12.5" height="12.5" fill="#fcfcfc"/>
<rect x="36" y="156" width="12.5" height="12.5" fill="#fcfcfc"/>
<rect x="48" y="156" width="12.5" height="12.5" fill="#ebebeb"/>
<rect x="60" y="156" width="12.5" height="12.5" fill="#d0d0d0"/>
<rect x="72" y="156" width="12.5" height="12.5" fill="#afafaf"/>
<rect x="84" y="156" width="12.5" height="12.5" fill="#bababa"/>
<rect x="96" y="156" width="12.5" height="12.5" fill="#9f9f9f"/>
<rect x="108" y="156" width="12.5" height="12.5" fill="#898989"/>
<rect x="120" y="156" width="12.5" height="12.5" fill="#747474"/>
<rect x="132" y="156" width="12.5" height="12.5" fill="#696969"/>
<rect x="144" y="156" width="12.5" height="12.5" fill="#7e7e7e"/>
<rect x="156" y="156" width="12.5" height="12.5" fill="#8f8f8f"/>
<rect x="168" y="156" width="12.5" height="12.5" fill="#8f8f8f"/>
<rect x="180" y="156" width="12.5" height="12.5" fill="#8f8f8f"/>
<rect x="192" y="156" width="12.5" height="12.5" fill="#8f8f8f"/>
<rect x="204" y="156" width="12.5" height="12.5" fill="#8f8f8f"/>
<rect x="216" y="156" width="12.5" height="12.5" fill="#8f8f8f"/>
<rect x="228" y="156" width="12.5" height="12.5" fill="#8f8f8f"/>
<rect x="12" y="168" width="12.5" height="12.5" fill="#fcfcfc"/>
<rect x="24" y="168" width="12.5" height="12.5" fill="#fcfcfc"/>
<rect x="36" y="168" width="12.5" height="12.5" fill="#fcfcfc"/>
<rect x="48" y="168" width="12.5" height="12.5" fill="#f6f6f6"/>
<rect x="60" y="168" width="12.5" height="12.5" fill="#bababa"/>
<rect x="72" y="168" width="12.5" height="12.5" fill="#7e7e7e"/>
<rect x="84" y="168" width="12.5" height="12.5" fill="#898989"/>
<rect x="96" y="168" width="12.5" height="12.5" fill="#afafaf"/>
<rect x="108" y="168" width="12.5" height="12.5" fill="#9f9f9f"/>
<rect x="120" y="168" width="12.5" height="12.5" fill="#9f9f9f"/>
<rect x="132" y="168" width="12.5" height="12.5" fill="#696969"/>
<rect x="144" y="168" width="12.5" height="12.5" fill="#696969"/>
<rect x="156" y="168" width="12.5" height="12.5" fill="#8f8f8f"/>
<rect x="168" y="168" width="12.5" height="12.5" fill="#8f8f8f"/>
<rect x="180" y="168" width="12.5" height="12.5" fill="#8f8f8f"/>
<rect x="192" y="168" width="12.5" height="12.5" fill="#8f8f8f"/>
<rect x="204" y="168" width="12.5" height="12.5" fill="#8f8f8f"/>
<rect x="216" y="168" width="12.5" height="12.5" fill="#8f8f8f"/>
<rect x="228" y="168" width="12.5" height="12.5" fill="#8f8f8f"/>
<rect x="12" y="180" width="12.5" height="12.5" fill="#fcfcfc"/>
<rect x="24" y="180" width="12.5" height="12.5" fill="#fcfcfc"/>
<rect x="36" y="180" width="12.5" height="12.5" fill="#fcfcfc"/>
<rect x="48" y="180" width="12.5" height="12.5" fill="#fcfcfc"/>
<rect x="60" y="180" width="12.5" height="12.5" fill="#f6f6f6"/>
<rect x="72" y="180" width="12.5" height="12.5" fill="#e6e6e6"/>
<rect x="84" y="180" width="12.5" height="12.5" fill="#c5c5c5"/>
<rect x="96" y="180" width="12.5" height="12.5" fill="#b5b5b5"/>
<rect x="108" y="180" width="12.5" height="12.5" fill="#afafaf"/>
<rect x="120" y="180" width="12.5" height="12.5" fill="#afafaf"/>
<rect x="132" y="180" width="12.5" height="12.5" fill="#afafaf"/>
<rect x="144" y="180" width="12.5" height="12.5" fill="#797979"/>
<rect x="156" y="180" width="12.5" height="12.5" fill="#797979"/>
<rect x="168" y="180" width="12.5" height="12.5" fill="#8f8f8f"/>
<rect x="180" y="180" width="12.5" height="12.5" fill="#8f8f8f"/>
<rect x="192" y="180" width="12.5" height="12.5" fill="#8f8f8f"/>
<rect x="204" y="180" width="12.5" height="12.5" fill="#8f8f8f"/>
<rect x="216" y="180" width="12.5" height="12.5" fill="#8f8f8f"/>
<rect x="228" y="180" width="12.5" height="12.5" fill="#8f8f8f"/>
<rect x="12" y="192" width="12.5" height="12.5" fill="#fcfcfc"/>
<rect x="24" y="192" width="12.5" height="12.5" fill="#fcfcfc"/>
<rect x="36" y="192" width="12.5" height="12.5" fill="#fcfcfc"/>
<rect x="48" y="192" width="12.5" height="12.5" fill="#fcfcfc"/>
<rect x="60" y="192" width="12.5" height="12.5" fill="#fcfcfc"/>
<rect x="72" y="192" width="12.5" height="12.5" fill="#f6f6f6"/>
<rect x="84" y="192" width="12.5" height="12.5" fill="#c5c5c5"/>
<rect x="96" y="192" width="12.5" height="12.5" fill="#b5b5b5"/>
<rect x="108" y="192" width="12.5" height="12.5" fill="#afafaf"/>
<rect x="120" y="192" width="12.5" height="12.5" fill="#afafaf"/>
<rect x="132" y="192" width="12.5" height="12.5" fill="#afafaf"/>
<rect x="144" y="192" width="12.5" height="12.5" fill="#afafaf"/>
<rect x="156" y="192" width="12.5" height="12.5" fill="#797979"/>
<rect x="168" y="192" width="12.5" height="12.5" fill="#797979"/>
<rect x="180" y="192" width="12.5" height="12.5" fill="#8f8f8f"/>
<rect x="192" y="192" width="12.5" height="12.5" fill="#8f8f8f"/>
<rect x="204" y="192" width="12.5" height="12.5" fill="#8f8f8f"/>
<rect x="216" y="192" width="12.5" height="12.5" fill="#8f8f8f"/>
<rect x="228" y="192" width="12.5" height="12.5" fill="#8f8f8f"/>
<rect x="12" y="204" width="12.5" height="12.5" fill="#fcfcfc"/>
<rect x="24" y="204" width="12.5" height="12.5" fill="#fcfcfc"/>
<rect x="36" y="204" width="12.5" height="12.5" fill="#fcfcfc"/>
<rect x="48" y="204" width="12.5" height="12.5" fill="#fcfcfc"/>
<rect x="60" y="204" width="12.5" height="12.5" fill="#fcfcfc"/>
<rect x="72" y="204" width="12.5" height="12.5" fill="#f6f6f6"/>
<rect x="84" y="204" width="12.5" height="12.5" fill="#f6f6f6"/>
<rect x="96" y="204" width="12.5" height="12.5" fill="#b5b5b5"/>
<rect x="108" y="204" width="12.5" height="12.5" fill="#afafaf"/>
<rect x="120" y="204" width="12.5" height="12.5" fill="#afafaf"/>
<rect x="132" y="204" width="12.5" height="12.5" fill="#afafaf"/>
<rect x="144" y="204" width="12.5" height="12.5" fill="#afafaf"/>
<rect x="156" y="204" width="12.5" height="12.5" fill="#afafaf"/>
<rect x="168" y="204" width="12.5" height="12.5" fill="#797979"/>
<rect x="180" y="204" width="12.5" height="12.5" fill="#797979"/>
<rect x="192" y="204" width="12.5" height="12.5" fill="#8f8f8f"/>
<rect x="204" y="204" width="12.5" height="12.5" fill="#8f8f8f"/>
<rect x="216" y="204" width="12.5" height="12.5" fill="#8f8f8f"/>
<rect x="228" y="204" width="12.5" height="12.5" fill="#8f8f8f"/>
<rect x="12" y="216" width="12.5" height="12.5" fill="#fcfcfc"/>
<rect x="24" y="216" width="12.5" height="12.5" fill="#fcfcfc"/>
<rect x="36" y="216" width="12.5" height="12.5" fill="#fcfcfc"/>
<rect x="48" y="216" width="12.5" height="12.5" fill="#fcfcfc"/>
<rect x="60" y="216" width="12.5" height="12.5" fill="#fcfcfc"/>
<rect x="72" y="216" width="12.5" height="12.5" fill="#f6f6f6"/>
<rect x="84" y="216" width="12.5" height="12.5" fill="#f6f6f6"/>
<rect x="96" y="216" width="12.5" height="12.5" fill="#f6f6f6"/>
<rect x="108" y="216" width="12.5" height="12.5" fill="#afafaf"/>
<rect x="120" y="216" width="12.5" height="12.5" fill="#afafaf"/>
<rect x="132" y="216" width="12.5" height="12.5" fill="#afafaf"/>
<rect x="144" y="216" width="12.5" height="12.5" fill="#afafaf"/>
<rect x="156" y="216" width="12.5" height="12.5" fill="#afafaf"/>
<rect x="168" y="216" width="12.5" height="12.5" fill="#afafaf"/>
<rect x="180" y="216" width="12.5" height="12.5" fill="#797979"/>
<rect x="192" y="216" width="12.5" height="12.5" fill="#797979"/>
<rect x="204" y="216" width="12.5" height="12.5" fill="#8f8f8f"/>
<rect x="216" y="216" width="12.5" height="12.5" fill="#8f8f8f"/>
<rect x="228" y="216" width="12.5" height="12.5" fill="#8f8f8f"/>
</g></g></g></g>
<text x="188.4" y="173.2" font-size="9.3" font-weight="bold" text-anchor="middle" fill="#111">NDVI</text>
<path d="M1.04,1.61C1.57,1.26 2.67,0.77 3.48,0.77C4.29,0.77 5.16,1.33 5.91,1.61C6.67,1.89 7.19,2.53 8.00,2.45C8.81,2.38 9.80,1.57 10.78,1.16C11.77,0.75 13.25,0.03 13.91,0.00C14.57,-0.03 14.66,0.48 14.75,0.97C14.84,1.45 14.56,2.33 14.47,2.90C14.38,3.47 14.03,3.95 14.19,4.39C14.35,4.83 15.14,5.04 15.44,5.55C15.74,6.05 16.08,6.78 16.00,7.42C15.92,8.05 15.48,8.92 14.96,9.35C14.43,9.78 13.57,10.02 12.87,10.00C12.17,9.98 11.48,9.60 10.78,9.23C10.09,8.85 9.39,7.80 8.70,7.74C8.00,7.69 7.36,8.58 6.61,8.90C5.86,9.23 4.99,9.60 4.17,9.68C3.36,9.75 2.38,9.68 1.74,9.35C1.10,9.03 0.64,8.44 0.35,7.74C0.06,7.04 0.00,5.97 0.00,5.16C0.00,4.35 0.17,3.49 0.35,2.90C0.52,2.31 0.52,1.97 1.04,1.61Z" transform="translate(161.3,178.9) scale(0.906,0.900)" fill="#1a6e1a" stroke="#5a5a5a" stroke-width="0.7"/>
<text x="181.7" y="186.0" font-size="7.1" fill="#1a1a1a" stroke="#1a1a1a" stroke-width="0.15">-0.35 - -0.16</text>
<path d="M1.04,1.61C1.57,1.26 2.67,0.77 3.48,0.77C4.29,0.77 5.16,1.33 5.91,1.61C6.67,1.89 7.19,2.53 8.00,2.45C8.81,2.38 9.80,1.57 10.78,1.16C11.77,0.75 13.25,0.03 13.91,0.00C14.57,-0.03 14.66,0.48 14.75,0.97C14.84,1.45 14.56,2.33 14.47,2.90C14.38,3.47 14.03,3.95 14.19,4.39C14.35,4.83 15.14,5.04 15.44,5.55C15.74,6.05 16.08,6.78 16.00,7.42C15.92,8.05 15.48,8.92 14.96,9.35C14.43,9.78 13.57,10.02 12.87,10.00C12.17,9.98 11.48,9.60 10.78,9.23C10.09,8.85 9.39,7.80 8.70,7.74C8.00,7.69 7.36,8.58 6.61,8.90C5.86,9.23 4.99,9.60 4.17,9.68C3.36,9.75 2.38,9.68 1.74,9.35C1.10,9.03 0.64,8.44 0.35,7.74C0.06,7.04 0.00,5.97 0.00,5.16C0.00,4.35 0.17,3.49 0.35,2.90C0.52,2.31 0.52,1.97 1.04,1.61Z" transform="translate(161.3,192.3) scale(0.906,0.900)" fill="#5a9e14" stroke="#5a5a5a" stroke-width="0.7"/>
<text x="181.7" y="199.4" font-size="7.1" fill="#1a1a1a" stroke="#1a1a1a" stroke-width="0.15">-0.16 - -0.09</text>
<path d="M1.04,1.61C1.57,1.26 2.67,0.77 3.48,0.77C4.29,0.77 5.16,1.33 5.91,1.61C6.67,1.89 7.19,2.53 8.00,2.45C8.81,2.38 9.80,1.57 10.78,1.16C11.77,0.75 13.25,0.03 13.91,0.00C14.57,-0.03 14.66,0.48 14.75,0.97C14.84,1.45 14.56,2.33 14.47,2.90C14.38,3.47 14.03,3.95 14.19,4.39C14.35,4.83 15.14,5.04 15.44,5.55C15.74,6.05 16.08,6.78 16.00,7.42C15.92,8.05 15.48,8.92 14.96,9.35C14.43,9.78 13.57,10.02 12.87,10.00C12.17,9.98 11.48,9.60 10.78,9.23C10.09,8.85 9.39,7.80 8.70,7.74C8.00,7.69 7.36,8.58 6.61,8.90C5.86,9.23 4.99,9.60 4.17,9.68C3.36,9.75 2.38,9.68 1.74,9.35C1.10,9.03 0.64,8.44 0.35,7.74C0.06,7.04 0.00,5.97 0.00,5.16C0.00,4.35 0.17,3.49 0.35,2.90C0.52,2.31 0.52,1.97 1.04,1.61Z" transform="translate(161.3,205.7) scale(0.906,0.900)" fill="#b8e614" stroke="#5a5a5a" stroke-width="0.7"/>
<text x="181.7" y="212.8" font-size="7.1" fill="#1a1a1a" stroke="#1a1a1a" stroke-width="0.15">-0.09 - -0.03</text>
<path d="M1.04,1.61C1.57,1.26 2.67,0.77 3.48,0.77C4.29,0.77 5.16,1.33 5.91,1.61C6.67,1.89 7.19,2.53 8.00,2.45C8.81,2.38 9.80,1.57 10.78,1.16C11.77,0.75 13.25,0.03 13.91,0.00C14.57,-0.03 14.66,0.48 14.75,0.97C14.84,1.45 14.56,2.33 14.47,2.90C14.38,3.47 14.03,3.95 14.19,4.39C14.35,4.83 15.14,5.04 15.44,5.55C15.74,6.05 16.08,6.78 16.00,7.42C15.92,8.05 15.48,8.92 14.96,9.35C14.43,9.78 13.57,10.02 12.87,10.00C12.17,9.98 11.48,9.60 10.78,9.23C10.09,8.85 9.39,7.80 8.70,7.74C8.00,7.69 7.36,8.58 6.61,8.90C5.86,9.23 4.99,9.60 4.17,9.68C3.36,9.75 2.38,9.68 1.74,9.35C1.10,9.03 0.64,8.44 0.35,7.74C0.06,7.04 0.00,5.97 0.00,5.16C0.00,4.35 0.17,3.49 0.35,2.90C0.52,2.31 0.52,1.97 1.04,1.61Z" transform="translate(161.3,219.1) scale(0.906,0.900)" fill="#ffe014" stroke="#5a5a5a" stroke-width="0.7"/>
<text x="181.7" y="226.2" font-size="7.1" fill="#1a1a1a" stroke="#1a1a1a" stroke-width="0.15">-0.03 - 0.01</text>
<path d="M1.04,1.61C1.57,1.26 2.67,0.77 3.48,0.77C4.29,0.77 5.16,1.33 5.91,1.61C6.67,1.89 7.19,2.53 8.00,2.45C8.81,2.38 9.80,1.57 10.78,1.16C11.77,0.75 13.25,0.03 13.91,0.00C14.57,-0.03 14.66,0.48 14.75,0.97C14.84,1.45 14.56,2.33 14.47,2.90C14.38,3.47 14.03,3.95 14.19,4.39C14.35,4.83 15.14,5.04 15.44,5.55C15.74,6.05 16.08,6.78 16.00,7.42C15.92,8.05 15.48,8.92 14.96,9.35C14.43,9.78 13.57,10.02 12.87,10.00C12.17,9.98 11.48,9.60 10.78,9.23C10.09,8.85 9.39,7.80 8.70,7.74C8.00,7.69 7.36,8.58 6.61,8.90C5.86,9.23 4.99,9.60 4.17,9.68C3.36,9.75 2.38,9.68 1.74,9.35C1.10,9.03 0.64,8.44 0.35,7.74C0.06,7.04 0.00,5.97 0.00,5.16C0.00,4.35 0.17,3.49 0.35,2.90C0.52,2.31 0.52,1.97 1.04,1.61Z" transform="translate(161.3,232.5) scale(0.906,0.900)" fill="#ff8c14" stroke="#5a5a5a" stroke-width="0.7"/>
<text x="181.7" y="239.6" font-size="7.1" fill="#1a1a1a" stroke="#1a1a1a" stroke-width="0.15">0.01 - 0.04</text>
<path d="M1.04,1.61C1.57,1.26 2.67,0.77 3.48,0.77C4.29,0.77 5.16,1.33 5.91,1.61C6.67,1.89 7.19,2.53 8.00,2.45C8.81,2.38 9.80,1.57 10.78,1.16C11.77,0.75 13.25,0.03 13.91,0.00C14.57,-0.03 14.66,0.48 14.75,0.97C14.84,1.45 14.56,2.33 14.47,2.90C14.38,3.47 14.03,3.95 14.19,4.39C14.35,4.83 15.14,5.04 15.44,5.55C15.74,6.05 16.08,6.78 16.00,7.42C15.92,8.05 15.48,8.92 14.96,9.35C14.43,9.78 13.57,10.02 12.87,10.00C12.17,9.98 11.48,9.60 10.78,9.23C10.09,8.85 9.39,7.80 8.70,7.74C8.00,7.69 7.36,8.58 6.61,8.90C5.86,9.23 4.99,9.60 4.17,9.68C3.36,9.75 2.38,9.68 1.74,9.35C1.10,9.03 0.64,8.44 0.35,7.74C0.06,7.04 0.00,5.97 0.00,5.16C0.00,4.35 0.17,3.49 0.35,2.90C0.52,2.31 0.52,1.97 1.04,1.61Z" transform="translate(161.3,245.9) scale(0.906,0.900)" fill="#ff3c14" stroke="#5a5a5a" stroke-width="0.7"/>
<text x="181.7" y="253.0" font-size="7.1" fill="#1a1a1a" stroke="#1a1a1a" stroke-width="0.15">0.05 - 0.20</text>
<use href="#dots"/>
<g><rect x="9.45" y="9.9" width="238" height="254.55" fill="none" stroke="#1c1c1c" stroke-width="1.15"/>
<path d="M13.6,9.4v-2.2M10.1,265v2.2" stroke="#111" stroke-width="1.2"/>
<text x="5.1" y="6.4" font-size="5.3" fill="#222" textLength="17.2" lengthAdjust="spacingAndGlyphs">35°35'E</text>
<text x="1.8" y="272.3" font-size="5.3" fill="#222" textLength="17.2" lengthAdjust="spacingAndGlyphs">35°35'E</text>
<path d="M68.6,9.4v-2.2M65.1,265v2.2" stroke="#111" stroke-width="1.2"/>
<text x="60.1" y="6.4" font-size="5.3" fill="#222" textLength="17.2" lengthAdjust="spacingAndGlyphs">35°40'E</text>
<text x="56.8" y="272.3" font-size="5.3" fill="#222" textLength="17.2" lengthAdjust="spacingAndGlyphs">35°40'E</text>
<path d="M123.6,9.4v-2.2M120.1,265v2.2" stroke="#111" stroke-width="1.2"/>
<text x="115.1" y="6.4" font-size="5.3" fill="#222" textLength="17.2" lengthAdjust="spacingAndGlyphs">35°45'E</text>
<text x="111.8" y="272.3" font-size="5.3" fill="#222" textLength="17.2" lengthAdjust="spacingAndGlyphs">35°45'E</text>
<path d="M178.6,9.4v-2.2M175.1,265v2.2" stroke="#111" stroke-width="1.2"/>
<text x="170.1" y="6.4" font-size="5.3" fill="#222" textLength="17.2" lengthAdjust="spacingAndGlyphs">35°50'E</text>
<text x="166.8" y="272.3" font-size="5.3" fill="#222" textLength="17.2" lengthAdjust="spacingAndGlyphs">35°50'E</text>
<path d="M233.6,9.4v-2.2M230.1,265v2.2" stroke="#111" stroke-width="1.2"/>
<text x="225.1" y="6.4" font-size="5.3" fill="#222" textLength="17.2" lengthAdjust="spacingAndGlyphs">35°55'E</text>
<text x="221.8" y="272.3" font-size="5.3" fill="#222" textLength="17.2" lengthAdjust="spacingAndGlyphs">35°55'E</text>
<path d="M8.9,49.6h-2.2M248,52.3h2.2" stroke="#111" stroke-width="1.2"/>
<text transform="translate(5.8,49.6) rotate(-90)" x="-8.8" font-size="5.3" fill="#222" textLength="17.6" lengthAdjust="spacingAndGlyphs">32°24'N</text>
<text transform="translate(254.5,52.6) rotate(-90)" x="-8.8" font-size="5.3" fill="#222" textLength="17.6" lengthAdjust="spacingAndGlyphs">32°24'N</text>
<path d="M8.9,101.5h-2.2M248,104.2h2.2" stroke="#111" stroke-width="1.2"/>
<text transform="translate(5.8,101.5) rotate(-90)" x="-8.8" font-size="5.3" fill="#222" textLength="17.6" lengthAdjust="spacingAndGlyphs">32°20'N</text>
<text transform="translate(254.5,104.5) rotate(-90)" x="-8.8" font-size="5.3" fill="#222" textLength="17.6" lengthAdjust="spacingAndGlyphs">32°20'N</text>
<path d="M8.9,153.4h-2.2M248,156.1h2.2" stroke="#111" stroke-width="1.2"/>
<text transform="translate(5.8,153.4) rotate(-90)" x="-8.8" font-size="5.3" fill="#222" textLength="17.6" lengthAdjust="spacingAndGlyphs">32°16'N</text>
<text transform="translate(254.5,156.4) rotate(-90)" x="-8.8" font-size="5.3" fill="#222" textLength="17.6" lengthAdjust="spacingAndGlyphs">32°16'N</text>
<path d="M8.9,205.3h-2.2M248,208.0h2.2" stroke="#111" stroke-width="1.2"/>
<text transform="translate(5.8,205.3) rotate(-90)" x="-8.8" font-size="5.3" fill="#222" textLength="17.6" lengthAdjust="spacingAndGlyphs">32°12'N</text>
<text transform="translate(254.5,208.3) rotate(-90)" x="-8.8" font-size="5.3" fill="#222" textLength="17.6" lengthAdjust="spacingAndGlyphs">32°12'N</text>
<path d="M8.9,257.2h-2.2M248,259.9h2.2" stroke="#111" stroke-width="1.2"/>
<text transform="translate(5.8,257.2) rotate(-90)" x="-7.5" font-size="5.3" fill="#222" textLength="14.9" lengthAdjust="spacingAndGlyphs">32°8'N</text>
<text transform="translate(254.5,260.2) rotate(-90)" x="-7.5" font-size="5.3" fill="#222" textLength="14.9" lengthAdjust="spacingAndGlyphs">32°8'N</text>
<rect x="17" y="19.3" width="2" height="2" fill="#000"/>
<rect x="17" y="29.7" width="2" height="2" fill="#1e58dc"/>
<text x="28.8" y="23.3" font-size="8.1" fill="#111" stroke="#111" stroke-width="0.22" textLength="85" lengthAdjust="spacingAndGlyphs">Forest fire for validating</text>
<text x="28.8" y="33.7" font-size="8.1" fill="#111" stroke="#111" stroke-width="0.22" textLength="77" lengthAdjust="spacingAndGlyphs">Forest fire for training</text>
<g transform="translate(225.7,31.3)">
<path d="M0,-9.6L1.1,-2.6L-1.1,-2.6ZM0,9.6L1.1,2.6L-1.1,2.6ZM-9.6,0L-2.6,-1.1L-2.6,1.1ZM9.6,0L2.6,-1.1L2.6,1.1Z" fill="#1a1a1a"/>
<path d="M0,-9.6V9.6M-9.6,0H9.6" stroke="#1a1a1a" stroke-width="0.5"/>
<circle r="3.7" fill="#fff" stroke="#1a1a1a" stroke-width="0.8"/>
<path d="M0,0L0,-3.7A3.7,3.7 0 0 1 3.7,0ZM0,0L0,3.7A3.7,3.7 0 0 1 -3.7,0Z" fill="#111"/>
<path d="M0,-3.7V3.7M-3.7,0H3.7" stroke="#1a1a1a" stroke-width="0.4"/>
<text x="0.2" y="-11.1" font-family="Liberation Serif, serif" font-weight="bold" font-size="5" text-anchor="middle" fill="#111">N</text><text x="0.2" y="14.5" font-family="Liberation Serif, serif" font-weight="bold" font-size="5" text-anchor="middle" fill="#111">S</text><text x="-12.6" y="1.6" font-family="Liberation Serif, serif" font-weight="bold" font-size="5" text-anchor="middle" fill="#111">W</text><text x="11.8" y="1.7" font-family="Liberation Serif, serif" font-weight="bold" font-size="5" text-anchor="middle" fill="#111">E</text>
</g>
<path d="M166.5,128.0h57.4M166.90,128.0v4.2M173.98,128.0v4.2M181.06,128.0v4.2M188.14,128.0v2.6M195.22,128.0v4.2M202.30,128.0v2.6M209.38,128.0v4.2M216.46,128.0v2.6M223.54,128.0v4.2" stroke="#222" stroke-width="0.9" fill="none"/>
<text x="166.9" y="138.9" font-size="5" text-anchor="middle" fill="#222">0</text>
<text x="174.0" y="138.9" font-size="5" text-anchor="middle" fill="#222">1</text>
<text x="181.1" y="138.9" font-size="5" text-anchor="middle" fill="#222">2</text>
<text x="195.2" y="138.9" font-size="5" text-anchor="middle" fill="#222">4</text>
<text x="209.4" y="138.9" font-size="5" text-anchor="middle" fill="#222">6</text>
<text x="223.5" y="138.9" font-size="5" text-anchor="middle" fill="#222">8</text>
<text x="226.5" y="138.9" font-size="5" fill="#222">Km</text></g>
<text x="126.9" y="24.6" font-size="9.2" font-weight="bold" font-style="italic" fill="#111" stroke="#111" stroke-width="0.15">(e)</text>
</g>
<g transform="translate(258.4,0)">
<g clip-path="url(#clip)"><g opacity="0.999">
<rect x="10" y="10" width="230" height="210" fill="#7c6a98"/>
<path d="M0.0,0.0 L42.5,0.0 L42.5,54.2 L43.3,65.1 L44.1,75.1 L45.8,85.2 L48.3,95.2 L50.8,105.3 L53.3,115.3 L55.8,123.7 L55.8,122.0 L60.0,130.4 L65.0,140.4 L70.1,150.4 L75.9,162.2 L80.9,173.9 L86.0,183.9 L87.6,188.9 L87.6,230.0 L0.0,230.0Z" fill="#7c6a98"/>
<path d="M42.5,0.0 L42.5,54.2 L43.3,65.1 L44.1,75.1 L45.8,85.2 L48.3,95.2 L50.8,105.3 L53.3,115.3 L55.8,123.7 L55.8,122.0 L60.0,130.4 L65.0,140.4 L70.1,150.4 L75.9,162.2 L80.9,173.9 L86.0,183.9 L87.6,188.9 L92.6,230.0 L118.1,230.0 L115.1,183.0 L112.6,179.7 L107.6,173.0 L100.9,162.9 L94.2,152.9 L87.5,144.5 L97.5,155.5 L91.8,148.8 L86.0,140.4 L80.1,130.4 L75.1,122.0 L77.6,123.7 L73.4,115.3 L70.1,106.9 L66.7,96.9 L64.2,86.8 L61.7,76.8 L60.0,66.8 L59.2,56.7 L58.3,48.4 L58.3,0.0Z" fill="#64ec24"/>
<path d="M58.3,0.0 L58.3,48.4 L59.2,56.7 L60.0,66.8 L61.7,76.8 L64.2,86.8 L66.7,96.9 L70.1,106.9 L73.4,115.3 L77.6,123.7 L75.1,122.0 L80.1,130.4 L86.0,140.4 L91.8,148.8 L97.5,155.5 L87.5,144.5 L94.2,152.9 L100.9,162.9 L107.6,173.0 L112.6,179.7 L115.1,183.0 L118.1,230.0 L240.0,230.0 L240.0,0.0Z" fill="#f7241a"/>
<path d="M77.6,0.0 L77.6,60.1 L78.4,66.8 L80.1,75.1 L82.6,83.5 L85.1,91.9 L88.5,100.2 L92.6,108.6 L97.5,116.1 L87.5,100.2 L94.2,109.4 L100.9,119.4 L107.6,127.8 L115.1,136.2 L122.6,143.7 L131.0,148.7 L139.4,152.0 L148.6,152.9 L240.0,152.9 L240.0,0.0Z" fill="#30e8da"/>
<path d="M191.3,20.0 L191.6,45.0 L192.0,55.8 L192.5,67.5 L193.0,77.6 L193.0,83.9 L193.0,120.0 L240.0,120.0 L240.0,20.0Z" fill="#f7241a"/>
<path d="M97.9,0.0 L97.9,52.8 L97.9,60.8 L99.2,69.2 L101.7,77.6 L105.1,85.9 L110.1,93.5 L115.9,99.3 L122.6,103.5 L112.6,96.0 L117.6,101.0 L124.3,104.4 L132.7,106.4 L141.0,106.4 L147.7,104.4 L153.6,100.2 L159.4,91.0 L162.8,80.9 L165.3,69.2 L166.1,55.8 L166.1,40.8 L166.1,0.0Z" fill="#6e661c"/>
<path d="M26,154.6L28.4,154.6L31.4,160.5L33.1,166.3L35.1,171.6L30,171.6Z M43,189L45.6,189L47.6,194L50.5,198L53,201.5L46,201.5Z" fill="#1010e8"/>
<rect x="187.9" y="21" width="2.5" height="9.3" fill="#f7241a"/>
<rect x="215.3" y="66.5" width="2" height="2.2" fill="#64ec24"/>
</g></g>
<text x="164.3" y="165.4" font-size="9.3" font-weight="bold" fill="#111" textLength="59" lengthAdjust="spacingAndGlyphs">Rainfall (mm)</text>
<path d="M1.04,1.61C1.57,1.26 2.67,0.77 3.48,0.77C4.29,0.77 5.16,1.33 5.91,1.61C6.67,1.89 7.19,2.53 8.00,2.45C8.81,2.38 9.80,1.57 10.78,1.16C11.77,0.75 13.25,0.03 13.91,0.00C14.57,-0.03 14.66,0.48 14.75,0.97C14.84,1.45 14.56,2.33 14.47,2.90C14.38,3.47 14.03,3.95 14.19,4.39C14.35,4.83 15.14,5.04 15.44,5.55C15.74,6.05 16.08,6.78 16.00,7.42C15.92,8.05 15.48,8.92 14.96,9.35C14.43,9.78 13.57,10.02 12.87,10.00C12.17,9.98 11.48,9.60 10.78,9.23C10.09,8.85 9.39,7.80 8.70,7.74C8.00,7.69 7.36,8.58 6.61,8.90C5.86,9.23 4.99,9.60 4.17,9.68C3.36,9.75 2.38,9.68 1.74,9.35C1.10,9.03 0.64,8.44 0.35,7.74C0.06,7.04 0.00,5.97 0.00,5.16C0.00,4.35 0.17,3.49 0.35,2.90C0.52,2.31 0.52,1.97 1.04,1.61Z" transform="translate(165.4,172.9) scale(1.156,1.130)" fill="#7c6a98" stroke="#5a5a5a" stroke-width="0.7"/>
<text x="190.5" y="181.4" font-size="7.9" fill="#1a1a1a" stroke="#1a1a1a" stroke-width="0.15">300 -350</text>
<path d="M1.04,1.61C1.57,1.26 2.67,0.77 3.48,0.77C4.29,0.77 5.16,1.33 5.91,1.61C6.67,1.89 7.19,2.53 8.00,2.45C8.81,2.38 9.80,1.57 10.78,1.16C11.77,0.75 13.25,0.03 13.91,0.00C14.57,-0.03 14.66,0.48 14.75,0.97C14.84,1.45 14.56,2.33 14.47,2.90C14.38,3.47 14.03,3.95 14.19,4.39C14.35,4.83 15.14,5.04 15.44,5.55C15.74,6.05 16.08,6.78 16.00,7.42C15.92,8.05 15.48,8.92 14.96,9.35C14.43,9.78 13.57,10.02 12.87,10.00C12.17,9.98 11.48,9.60 10.78,9.23C10.09,8.85 9.39,7.80 8.70,7.74C8.00,7.69 7.36,8.58 6.61,8.90C5.86,9.23 4.99,9.60 4.17,9.68C3.36,9.75 2.38,9.68 1.74,9.35C1.10,9.03 0.64,8.44 0.35,7.74C0.06,7.04 0.00,5.97 0.00,5.16C0.00,4.35 0.17,3.49 0.35,2.90C0.52,2.31 0.52,1.97 1.04,1.61Z" transform="translate(165.4,188.1) scale(1.156,1.130)" fill="#64ec24" stroke="#5a5a5a" stroke-width="0.7"/>
<text x="190.5" y="196.6" font-size="7.9" fill="#1a1a1a" stroke="#1a1a1a" stroke-width="0.15">350 - 400</text>
<path d="M1.04,1.61C1.57,1.26 2.67,0.77 3.48,0.77C4.29,0.77 5.16,1.33 5.91,1.61C6.67,1.89 7.19,2.53 8.00,2.45C8.81,2.38 9.80,1.57 10.78,1.16C11.77,0.75 13.25,0.03 13.91,0.00C14.57,-0.03 14.66,0.48 14.75,0.97C14.84,1.45 14.56,2.33 14.47,2.90C14.38,3.47 14.03,3.95 14.19,4.39C14.35,4.83 15.14,5.04 15.44,5.55C15.74,6.05 16.08,6.78 16.00,7.42C15.92,8.05 15.48,8.92 14.96,9.35C14.43,9.78 13.57,10.02 12.87,10.00C12.17,9.98 11.48,9.60 10.78,9.23C10.09,8.85 9.39,7.80 8.70,7.74C8.00,7.69 7.36,8.58 6.61,8.90C5.86,9.23 4.99,9.60 4.17,9.68C3.36,9.75 2.38,9.68 1.74,9.35C1.10,9.03 0.64,8.44 0.35,7.74C0.06,7.04 0.00,5.97 0.00,5.16C0.00,4.35 0.17,3.49 0.35,2.90C0.52,2.31 0.52,1.97 1.04,1.61Z" transform="translate(165.4,203.3) scale(1.156,1.130)" fill="#1010e8" stroke="#5a5a5a" stroke-width="0.7"/>
<text x="190.5" y="211.8" font-size="7.9" fill="#1a1a1a" stroke="#1a1a1a" stroke-width="0.15">250 - 300</text>
<path d="M1.04,1.61C1.57,1.26 2.67,0.77 3.48,0.77C4.29,0.77 5.16,1.33 5.91,1.61C6.67,1.89 7.19,2.53 8.00,2.45C8.81,2.38 9.80,1.57 10.78,1.16C11.77,0.75 13.25,0.03 13.91,0.00C14.57,-0.03 14.66,0.48 14.75,0.97C14.84,1.45 14.56,2.33 14.47,2.90C14.38,3.47 14.03,3.95 14.19,4.39C14.35,4.83 15.14,5.04 15.44,5.55C15.74,6.05 16.08,6.78 16.00,7.42C15.92,8.05 15.48,8.92 14.96,9.35C14.43,9.78 13.57,10.02 12.87,10.00C12.17,9.98 11.48,9.60 10.78,9.23C10.09,8.85 9.39,7.80 8.70,7.74C8.00,7.69 7.36,8.58 6.61,8.90C5.86,9.23 4.99,9.60 4.17,9.68C3.36,9.75 2.38,9.68 1.74,9.35C1.10,9.03 0.64,8.44 0.35,7.74C0.06,7.04 0.00,5.97 0.00,5.16C0.00,4.35 0.17,3.49 0.35,2.90C0.52,2.31 0.52,1.97 1.04,1.61Z" transform="translate(165.4,218.5) scale(1.156,1.130)" fill="#f7241a" stroke="#5a5a5a" stroke-width="0.7"/>
<text x="190.5" y="227.0" font-size="7.9" fill="#1a1a1a" stroke="#1a1a1a" stroke-width="0.15">400 - 450</text>
<path d="M1.04,1.61C1.57,1.26 2.67,0.77 3.48,0.77C4.29,0.77 5.16,1.33 5.91,1.61C6.67,1.89 7.19,2.53 8.00,2.45C8.81,2.38 9.80,1.57 10.78,1.16C11.77,0.75 13.25,0.03 13.91,0.00C14.57,-0.03 14.66,0.48 14.75,0.97C14.84,1.45 14.56,2.33 14.47,2.90C14.38,3.47 14.03,3.95 14.19,4.39C14.35,4.83 15.14,5.04 15.44,5.55C15.74,6.05 16.08,6.78 16.00,7.42C15.92,8.05 15.48,8.92 14.96,9.35C14.43,9.78 13.57,10.02 12.87,10.00C12.17,9.98 11.48,9.60 10.78,9.23C10.09,8.85 9.39,7.80 8.70,7.74C8.00,7.69 7.36,8.58 6.61,8.90C5.86,9.23 4.99,9.60 4.17,9.68C3.36,9.75 2.38,9.68 1.74,9.35C1.10,9.03 0.64,8.44 0.35,7.74C0.06,7.04 0.00,5.97 0.00,5.16C0.00,4.35 0.17,3.49 0.35,2.90C0.52,2.31 0.52,1.97 1.04,1.61Z" transform="translate(165.4,233.7) scale(1.156,1.130)" fill="#30e8da" stroke="#5a5a5a" stroke-width="0.7"/>
<text x="190.5" y="242.2" font-size="7.9" fill="#1a1a1a" stroke="#1a1a1a" stroke-width="0.15">450 - 500</text>
<path d="M1.04,1.61C1.57,1.26 2.67,0.77 3.48,0.77C4.29,0.77 5.16,1.33 5.91,1.61C6.67,1.89 7.19,2.53 8.00,2.45C8.81,2.38 9.80,1.57 10.78,1.16C11.77,0.75 13.25,0.03 13.91,0.00C14.57,-0.03 14.66,0.48 14.75,0.97C14.84,1.45 14.56,2.33 14.47,2.90C14.38,3.47 14.03,3.95 14.19,4.39C14.35,4.83 15.14,5.04 15.44,5.55C15.74,6.05 16.08,6.78 16.00,7.42C15.92,8.05 15.48,8.92 14.96,9.35C14.43,9.78 13.57,10.02 12.87,10.00C12.17,9.98 11.48,9.60 10.78,9.23C10.09,8.85 9.39,7.80 8.70,7.74C8.00,7.69 7.36,8.58 6.61,8.90C5.86,9.23 4.99,9.60 4.17,9.68C3.36,9.75 2.38,9.68 1.74,9.35C1.10,9.03 0.64,8.44 0.35,7.74C0.06,7.04 0.00,5.97 0.00,5.16C0.00,4.35 0.17,3.49 0.35,2.90C0.52,2.31 0.52,1.97 1.04,1.61Z" transform="translate(165.4,248.9) scale(1.156,1.130)" fill="#6e661c" stroke="#5a5a5a" stroke-width="0.7"/>
<text x="190.5" y="257.4" font-size="7.9" fill="#1a1a1a" stroke="#1a1a1a" stroke-width="0.15">500 - 550</text>
<use href="#dots"/>
<g><rect x="9.45" y="9.9" width="238" height="254.55" fill="none" stroke="#1c1c1c" stroke-width="1.15"/>
<path d="M13.6,9.4v-2.2M10.1,265v2.2" stroke="#111" stroke-width="1.2"/>
<text x="5.1" y="6.4" font-size="5.3" fill="#222" textLength="17.2" lengthAdjust="spacingAndGlyphs">35°35'E</text>
<text x="1.8" y="272.3" font-size="5.3" fill="#222" textLength="17.2" lengthAdjust="spacingAndGlyphs">35°35'E</text>
<path d="M68.6,9.4v-2.2M65.1,265v2.2" stroke="#111" stroke-width="1.2"/>
<text x="60.1" y="6.4" font-size="5.3" fill="#222" textLength="17.2" lengthAdjust="spacingAndGlyphs">35°40'E</text>
<text x="56.8" y="272.3" font-size="5.3" fill="#222" textLength="17.2" lengthAdjust="spacingAndGlyphs">35°40'E</text>
<path d="M123.6,9.4v-2.2M120.1,265v2.2" stroke="#111" stroke-width="1.2"/>
<text x="115.1" y="6.4" font-size="5.3" fill="#222" textLength="17.2" lengthAdjust="spacingAndGlyphs">35°45'E</text>
<text x="111.8" y="272.3" font-size="5.3" fill="#222" textLength="17.2" lengthAdjust="spacingAndGlyphs">35°45'E</text>
<path d="M178.6,9.4v-2.2M175.1,265v2.2" stroke="#111" stroke-width="1.2"/>
<text x="170.1" y="6.4" font-size="5.3" fill="#222" textLength="17.2" lengthAdjust="spacingAndGlyphs">35°50'E</text>
<text x="166.8" y="272.3" font-size="5.3" fill="#222" textLength="17.2" lengthAdjust="spacingAndGlyphs">35°50'E</text>
<path d="M233.6,9.4v-2.2M230.1,265v2.2" stroke="#111" stroke-width="1.2"/>
<text x="225.1" y="6.4" font-size="5.3" fill="#222" textLength="17.2" lengthAdjust="spacingAndGlyphs">35°55'E</text>
<text x="221.8" y="272.3" font-size="5.3" fill="#222" textLength="17.2" lengthAdjust="spacingAndGlyphs">35°55'E</text>
<path d="M8.9,49.6h-2.2M248,52.3h2.2" stroke="#111" stroke-width="1.2"/>
<text transform="translate(5.8,49.6) rotate(-90)" x="-8.8" font-size="5.3" fill="#222" textLength="17.6" lengthAdjust="spacingAndGlyphs">32°24'N</text>
<text transform="translate(254.5,52.6) rotate(-90)" x="-8.8" font-size="5.3" fill="#222" textLength="17.6" lengthAdjust="spacingAndGlyphs">32°24'N</text>
<path d="M8.9,101.5h-2.2M248,104.2h2.2" stroke="#111" stroke-width="1.2"/>
<text transform="translate(5.8,101.5) rotate(-90)" x="-8.8" font-size="5.3" fill="#222" textLength="17.6" lengthAdjust="spacingAndGlyphs">32°20'N</text>
<text transform="translate(254.5,104.5) rotate(-90)" x="-8.8" font-size="5.3" fill="#222" textLength="17.6" lengthAdjust="spacingAndGlyphs">32°20'N</text>
<path d="M8.9,153.4h-2.2M248,156.1h2.2" stroke="#111" stroke-width="1.2"/>
<text transform="translate(5.8,153.4) rotate(-90)" x="-8.8" font-size="5.3" fill="#222" textLength="17.6" lengthAdjust="spacingAndGlyphs">32°16'N</text>
<text transform="translate(254.5,156.4) rotate(-90)" x="-8.8" font-size="5.3" fill="#222" textLength="17.6" lengthAdjust="spacingAndGlyphs">32°16'N</text>
<path d="M8.9,205.3h-2.2M248,208.0h2.2" stroke="#111" stroke-width="1.2"/>
<text transform="translate(5.8,205.3) rotate(-90)" x="-8.8" font-size="5.3" fill="#222" textLength="17.6" lengthAdjust="spacingAndGlyphs">32°12'N</text>
<text transform="translate(254.5,208.3) rotate(-90)" x="-8.8" font-size="5.3" fill="#222" textLength="17.6" lengthAdjust="spacingAndGlyphs">32°12'N</text>
<path d="M8.9,257.2h-2.2M248,259.9h2.2" stroke="#111" stroke-width="1.2"/>
<text transform="translate(5.8,257.2) rotate(-90)" x="-7.5" font-size="5.3" fill="#222" textLength="14.9" lengthAdjust="spacingAndGlyphs">32°8'N</text>
<text transform="translate(254.5,260.2) rotate(-90)" x="-7.5" font-size="5.3" fill="#222" textLength="14.9" lengthAdjust="spacingAndGlyphs">32°8'N</text>
<rect x="17" y="19.3" width="2" height="2" fill="#000"/>
<rect x="17" y="29.7" width="2" height="2" fill="#1e58dc"/>
<text x="28.8" y="23.3" font-size="8.1" fill="#111" stroke="#111" stroke-width="0.22" textLength="85" lengthAdjust="spacingAndGlyphs">Forest fire for validating</text>
<text x="28.8" y="33.7" font-size="8.1" fill="#111" stroke="#111" stroke-width="0.22" textLength="77" lengthAdjust="spacingAndGlyphs">Forest fire for training</text>
<g transform="translate(225.7,31.3)">
<path d="M0,-9.6L1.1,-2.6L-1.1,-2.6ZM0,9.6L1.1,2.6L-1.1,2.6ZM-9.6,0L-2.6,-1.1L-2.6,1.1ZM9.6,0L2.6,-1.1L2.6,1.1Z" fill="#1a1a1a"/>
<path d="M0,-9.6V9.6M-9.6,0H9.6" stroke="#1a1a1a" stroke-width="0.5"/>
<circle r="3.7" fill="#fff" stroke="#1a1a1a" stroke-width="0.8"/>
<path d="M0,0L0,-3.7A3.7,3.7 0 0 1 3.7,0ZM0,0L0,3.7A3.7,3.7 0 0 1 -3.7,0Z" fill="#111"/>
<path d="M0,-3.7V3.7M-3.7,0H3.7" stroke="#1a1a1a" stroke-width="0.4"/>
<text x="0.2" y="-11.1" font-family="Liberation Serif, serif" font-weight="bold" font-size="5" text-anchor="middle" fill="#111">N</text><text x="0.2" y="14.5" font-family="Liberation Serif, serif" font-weight="bold" font-size="5" text-anchor="middle" fill="#111">S</text><text x="-12.6" y="1.6" font-family="Liberation Serif, serif" font-weight="bold" font-size="5" text-anchor="middle" fill="#111">W</text><text x="11.8" y="1.7" font-family="Liberation Serif, serif" font-weight="bold" font-size="5" text-anchor="middle" fill="#111">E</text>
</g>
<path d="M166.5,128.0h57.4M166.90,128.0v4.2M173.98,128.0v4.2M181.06,128.0v4.2M188.14,128.0v2.6M195.22,128.0v4.2M202.30,128.0v2.6M209.38,128.0v4.2M216.46,128.0v2.6M223.54,128.0v4.2" stroke="#222" stroke-width="0.9" fill="none"/>
<text x="166.9" y="138.9" font-size="5" text-anchor="middle" fill="#222">0</text>
<text x="174.0" y="138.9" font-size="5" text-anchor="middle" fill="#222">1</text>
<text x="181.1" y="138.9" font-size="5" text-anchor="middle" fill="#222">2</text>
<text x="195.2" y="138.9" font-size="5" text-anchor="middle" fill="#222">4</text>
<text x="209.4" y="138.9" font-size="5" text-anchor="middle" fill="#222">6</text>
<text x="223.5" y="138.9" font-size="5" text-anchor="middle" fill="#222">8</text>
<text x="226.5" y="138.9" font-size="5" fill="#222">Km</text></g>
<text x="126.9" y="24.6" font-size="9.2" font-weight="bold" font-style="italic" fill="#111" stroke="#111" stroke-width="0.15">(f)</text>
</g>
<g transform="translate(0,276)">
<g clip-path="url(#clip)"><g opacity="0.999">
<rect x="10" y="10" width="230" height="210" fill="#fb0e0e"/>
<g transform="matrix(5.5,0.0622,-0.0889,6.49,13.36,48.55)" shape-rendering="crispEdges">
<rect x="0" y="-6" width="22.02" height="1.03" fill="#ff8c14"/>
<rect x="22" y="-6" width="6.02" height="1.03" fill="#fabb12"/>
<rect x="28" y="-6" width="2.02" height="1.03" fill="#fbf31e"/>
<rect x="30" y="-6" width="2.02" height="1.03" fill="#fabb12"/>
<rect x="32" y="-6" width="8.02" height="1.03" fill="#fbf31e"/>
<rect x="0" y="-5" width="22.02" height="1.03" fill="#ff8c14"/>
<rect x="22" y="-5" width="6.02" height="1.03" fill="#fabb12"/>
<rect x="28" y="-5" width="2.02" height="1.03" fill="#fbf31e"/>
<rect x="30" y="-5" width="2.02" height="1.03" fill="#fabb12"/>
<rect x="32" y="-5" width="8.02" height="1.03" fill="#fbf31e"/>
<rect x="0" y="-4" width="22.02" height="1.03" fill="#ff8c14"/>
<rect x="22" y="-4" width="5.02" height="1.03" fill="#fabb12"/>
<rect x="27" y="-4" width="3.02" height="1.03" fill="#fbf31e"/>
<rect x="30" y="-4" width="2.02" height="1.03" fill="#fabb12"/>
<rect x="32" y="-4" width="8.02" height="1.03" fill="#fbf31e"/>
<rect x="0" y="-3" width="22.02" height="1.03" fill="#ff8c14"/>
<rect x="22" y="-3" width="3.02" height="1.03" fill="#fabb12"/>
<rect x="25" y="-3" width="3.02" height="1.03" fill="#fbf31e"/>
<rect x="28" y="-3" width="2.02" height="1.03" fill="#fabb12"/>
<rect x="30" y="-3" width="10.02" height="1.03" fill="#fbf31e"/>
<rect x="0" y="-2" width="22.02" height="1.03" fill="#ff8c14"/>
<rect x="22" y="-2" width="4.02" height="1.03" fill="#fabb12"/>
<rect x="26" y="-2" width="14.02" height="1.03" fill="#fbf31e"/>
<rect x="14" y="-1" width="3.02" height="1.03" fill="#ff5010"/>
<rect x="17" y="-1" width="5.02" height="1.03" fill="#ff8c14"/>
<rect x="22" y="-1" width="5.02" height="1.03" fill="#fabb12"/>
<rect x="27" y="-1" width="5.02" height="1.03" fill="#fbf31e"/>
<rect x="32" y="-1" width="2.02" height="1.03" fill="#fabb12"/>
<rect x="34" y="-1" width="6.02" height="1.03" fill="#fbf31e"/>
<rect x="13" y="0" width="5.02" height="1.03" fill="#ff5010"/>
<rect x="18" y="0" width="4.02" height="1.03" fill="#ff8c14"/>
<rect x="22" y="0" width="4.02" height="1.03" fill="#fabb12"/>
<rect x="26" y="0" width="14.02" height="1.03" fill="#fbf31e"/>
<rect x="10" y="1" width="6.02" height="1.03" fill="#ff5010"/>
<rect x="16" y="1" width="3.02" height="1.03" fill="#ff8c14"/>
<rect x="19" y="1" width="6.02" height="1.03" fill="#fabb12"/>
<rect x="25" y="1" width="15.02" height="1.03" fill="#fbf31e"/>
<rect x="10" y="2" width="2.02" height="1.03" fill="#ff5010"/>
<rect x="14" y="2" width="2.02" height="1.03" fill="#ff5010"/>
<rect x="16" y="2" width="4.02" height="1.03" fill="#ff8c14"/>
<rect x="20" y="2" width="4.02" height="1.03" fill="#fabb12"/>
<rect x="24" y="2" width="11.02" height="1.03" fill="#fbf31e"/>
<rect x="35" y="2" width="2.02" height="1.03" fill="#fabb12"/>
<rect x="37" y="2" width="3.02" height="1.03" fill="#fbf31e"/>
<rect x="8" y="3" width="4.02" height="1.03" fill="#ff5010"/>
<rect x="14" y="3" width="1.02" height="1.03" fill="#ff5010"/>
<rect x="15" y="3" width="5.02" height="1.03" fill="#ff8c14"/>
<rect x="20" y="3" width="3.02" height="1.03" fill="#fabb12"/>
<rect x="23" y="3" width="12.02" height="1.03" fill="#fbf31e"/>
<rect x="35" y="3" width="2.02" height="1.03" fill="#fabb12"/>
<rect x="37" y="3" width="3.02" height="1.03" fill="#fbf31e"/>
<rect x="8" y="4" width="3.02" height="1.03" fill="#ff5010"/>
<rect x="11" y="4" width="1.02" height="1.03" fill="#ff8c14"/>
<rect x="12" y="4" width="2.02" height="1.03" fill="#ff5010"/>
<rect x="14" y="4" width="2.02" height="1.03" fill="#ff8c14"/>
<rect x="16" y="4" width="7.02" height="1.03" fill="#fabb12"/>
<rect x="23" y="4" width="17.02" height="1.03" fill="#fbf31e"/>
<rect x="8" y="5" width="3.02" height="1.03" fill="#ff5010"/>
<rect x="11" y="5" width="1.02" height="1.03" fill="#ff8c14"/>
<rect x="12" y="5" width="1.02" height="1.03" fill="#ff5010"/>
<rect x="13" y="5" width="3.02" height="1.03" fill="#ff8c14"/>
<rect x="16" y="5" width="6.02" height="1.03" fill="#fabb12"/>
<rect x="22" y="5" width="18.02" height="1.03" fill="#fbf31e"/>
<rect x="6" y="6" width="3.02" height="1.03" fill="#ff5010"/>
<rect x="9" y="6" width="3.02" height="1.03" fill="#ff8c14"/>
<rect x="12" y="6" width="1.02" height="1.03" fill="#ff5010"/>
<rect x="13" y="6" width="3.02" height="1.03" fill="#ff8c14"/>
<rect x="16" y="6" width="5.02" height="1.03" fill="#fabb12"/>
<rect x="21" y="6" width="19.02" height="1.03" fill="#fbf31e"/>
<rect x="6" y="7" width="3.02" height="1.03" fill="#ff5010"/>
<rect x="9" y="7" width="7.02" height="1.03" fill="#ff8c14"/>
<rect x="16" y="7" width="7.02" height="1.03" fill="#fabb12"/>
<rect x="23" y="7" width="17.02" height="1.03" fill="#fbf31e"/>
<rect x="6" y="8" width="3.02" height="1.03" fill="#ff5010"/>
<rect x="9" y="8" width="7.02" height="1.03" fill="#ff8c14"/>
<rect x="16" y="8" width="3.02" height="1.03" fill="#fabb12"/>
<rect x="19" y="8" width="3.02" height="1.03" fill="#ff8c14"/>
<rect x="22" y="8" width="1.02" height="1.03" fill="#fabb12"/>
<rect x="23" y="8" width="17.02" height="1.03" fill="#fbf31e"/>
<rect x="6" y="9" width="3.02" height="1.03" fill="#ff5010"/>
<rect x="9" y="9" width="7.02" height="1.03" fill="#ff8c14"/>
<rect x="16" y="9" width="1.02" height="1.03" fill="#fabb12"/>
<rect x="17" y="9" width="5.02" height="1.03" fill="#ff8c14"/>
<rect x="22" y="9" width="18.02" height="1.03" fill="#fbf31e"/>
<rect x="6" y="10" width="3.02" height="1.03" fill="#ff5010"/>
<rect x="9" y="10" width="2.02" height="1.03" fill="#ff8c14"/>
<rect x="11" y="10" width="3.02" height="1.03" fill="#ff5010"/>
<rect x="14" y="10" width="7.02" height="1.03" fill="#ff8c14"/>
<rect x="21" y="10" width="1.02" height="1.03" fill="#fabb12"/>
<rect x="22" y="10" width="18.02" height="1.03" fill="#fbf31e"/>
<rect x="7" y="11" width="2.02" height="1.03" fill="#ff5010"/>
<rect x="9" y="11" width="1.02" height="1.03" fill="#ff8c14"/>
<rect x="10" y="11" width="6.02" height="1.03" fill="#ff5010"/>
<rect x="16" y="11" width="5.02" height="1.03" fill="#ff8c14"/>
<rect x="21" y="11" width="1.02" height="1.03" fill="#fabb12"/>
<rect x="22" y="11" width="18.02" height="1.03" fill="#fbf31e"/>
<rect x="7" y="12" width="6.02" height="1.03" fill="#ff5010"/>
<rect x="13" y="12" width="6.02" height="1.03" fill="#ff8c14"/>
<rect x="19" y="12" width="21.02" height="1.03" fill="#fbf31e"/>
<rect x="11" y="13" width="1.02" height="1.03" fill="#ff5010"/>
<rect x="12" y="13" width="5.02" height="1.03" fill="#ff8c14"/>
<rect x="17" y="13" width="3.02" height="1.03" fill="#fabb12"/>
<rect x="20" y="13" width="20.02" height="1.03" fill="#fbf31e"/>
<rect x="11" y="14" width="1.02" height="1.03" fill="#ff5010"/>
<rect x="12" y="14" width="4.02" height="1.03" fill="#ff8c14"/>
<rect x="16" y="14" width="5.02" height="1.03" fill="#fabb12"/>
<rect x="21" y="14" width="19.02" height="1.03" fill="#fbf31e"/>
<rect x="11" y="15" width="1.02" height="1.03" fill="#ff5010"/>
<rect x="12" y="15" width="4.02" height="1.03" fill="#ff8c14"/>
<rect x="16" y="15" width="6.02" height="1.03" fill="#fabb12"/>
<rect x="22" y="15" width="18.02" height="1.03" fill="#fbf31e"/>
<rect x="11" y="16" width="2.02" height="1.03" fill="#ff5010"/>
<rect x="13" y="16" width="7.02" height="1.03" fill="#ff8c14"/>
<rect x="20" y="16" width="4.02" height="1.03" fill="#fabb12"/>
<rect x="24" y="16" width="16.02" height="1.03" fill="#fbf31e"/>
<rect x="11" y="17" width="2.02" height="1.03" fill="#ff5010"/>
<rect x="13" y="17" width="27.02" height="1.03" fill="#ff8c14"/>
<rect x="14" y="18" width="4.02" height="1.03" fill="#ff5010"/>
<rect x="18" y="18" width="22.02" height="1.03" fill="#ff8c14"/>
<rect x="14" y="19" width="4.02" height="1.03" fill="#ff5010"/>
<rect x="18" y="19" width="1.02" height="1.03" fill="#ff8c14"/>
<rect x="19" y="19" width="21.02" height="1.03" fill="#fabb12"/>
<rect x="12" y="20" width="3.02" height="1.03" fill="#ff5010"/>
<rect x="15" y="20" width="25.02" height="1.03" fill="#ff8c14"/>
<rect x="12" y="21" width="3.02" height="1.03" fill="#ff5010"/>
<rect x="15" y="21" width="25.02" height="1.03" fill="#ff8c14"/>
</g>
</g></g>
<text x="101.8" y="201" font-size="9.4" font-weight="bold" fill="#111" textLength="132.4" lengthAdjust="spacingAndGlyphs">Temperature (degree Celsius)</text>
<path d="M1.04,1.61C1.57,1.26 2.67,0.77 3.48,0.77C4.29,0.77 5.16,1.33 5.91,1.61C6.67,1.89 7.19,2.53 8.00,2.45C8.81,2.38 9.80,1.57 10.78,1.16C11.77,0.75 13.25,0.03 13.91,0.00C14.57,-0.03 14.66,0.48 14.75,0.97C14.84,1.45 14.56,2.33 14.47,2.90C14.38,3.47 14.03,3.95 14.19,4.39C14.35,4.83 15.14,5.04 15.44,5.55C15.74,6.05 16.08,6.78 16.00,7.42C15.92,8.05 15.48,8.92 14.96,9.35C14.43,9.78 13.57,10.02 12.87,10.00C12.17,9.98 11.48,9.60 10.78,9.23C10.09,8.85 9.39,7.80 8.70,7.74C8.00,7.69 7.36,8.58 6.61,8.90C5.86,9.23 4.99,9.60 4.17,9.68C3.36,9.75 2.38,9.68 1.74,9.35C1.10,9.03 0.64,8.44 0.35,7.74C0.06,7.04 0.00,5.97 0.00,5.16C0.00,4.35 0.17,3.49 0.35,2.90C0.52,2.31 0.52,1.97 1.04,1.61Z" transform="translate(110.2,209.9) scale(0.969,0.950)" fill="#fbf31e" stroke="#5a5a5a" stroke-width="0.7"/>
<text x="132.5" y="217.3" font-size="7.1" fill="#1a1a1a" stroke="#1a1a1a" stroke-width="0.15">15.8 - 17.0</text>
<path d="M1.04,1.61C1.57,1.26 2.67,0.77 3.48,0.77C4.29,0.77 5.16,1.33 5.91,1.61C6.67,1.89 7.19,2.53 8.00,2.45C8.81,2.38 9.80,1.57 10.78,1.16C11.77,0.75 13.25,0.03 13.91,0.00C14.57,-0.03 14.66,0.48 14.75,0.97C14.84,1.45 14.56,2.33 14.47,2.90C14.38,3.47 14.03,3.95 14.19,4.39C14.35,4.83 15.14,5.04 15.44,5.55C15.74,6.05 16.08,6.78 16.00,7.42C15.92,8.05 15.48,8.92 14.96,9.35C14.43,9.78 13.57,10.02 12.87,10.00C12.17,9.98 11.48,9.60 10.78,9.23C10.09,8.85 9.39,7.80 8.70,7.74C8.00,7.69 7.36,8.58 6.61,8.90C5.86,9.23 4.99,9.60 4.17,9.68C3.36,9.75 2.38,9.68 1.74,9.35C1.10,9.03 0.64,8.44 0.35,7.74C0.06,7.04 0.00,5.97 0.00,5.16C0.00,4.35 0.17,3.49 0.35,2.90C0.52,2.31 0.52,1.97 1.04,1.61Z" transform="translate(110.2,223.9) scale(0.969,0.950)" fill="#fabb12" stroke="#5a5a5a" stroke-width="0.7"/>
<text x="132.5" y="231.2" font-size="7.1" fill="#1a1a1a" stroke="#1a1a1a" stroke-width="0.15">17.0 - 18.0</text>
<path d="M1.04,1.61C1.57,1.26 2.67,0.77 3.48,0.77C4.29,0.77 5.16,1.33 5.91,1.61C6.67,1.89 7.19,2.53 8.00,2.45C8.81,2.38 9.80,1.57 10.78,1.16C11.77,0.75 13.25,0.03 13.91,0.00C14.57,-0.03 14.66,0.48 14.75,0.97C14.84,1.45 14.56,2.33 14.47,2.90C14.38,3.47 14.03,3.95 14.19,4.39C14.35,4.83 15.14,5.04 15.44,5.55C15.74,6.05 16.08,6.78 16.00,7.42C15.92,8.05 15.48,8.92 14.96,9.35C14.43,9.78 13.57,10.02 12.87,10.00C12.17,9.98 11.48,9.60 10.78,9.23C10.09,8.85 9.39,7.80 8.70,7.74C8.00,7.69 7.36,8.58 6.61,8.90C5.86,9.23 4.99,9.60 4.17,9.68C3.36,9.75 2.38,9.68 1.74,9.35C1.10,9.03 0.64,8.44 0.35,7.74C0.06,7.04 0.00,5.97 0.00,5.16C0.00,4.35 0.17,3.49 0.35,2.90C0.52,2.31 0.52,1.97 1.04,1.61Z" transform="translate(110.2,237.8) scale(0.969,0.950)" fill="#ff8c14" stroke="#5a5a5a" stroke-width="0.7"/>
<text x="132.5" y="245.2" font-size="7.1" fill="#1a1a1a" stroke="#1a1a1a" stroke-width="0.15">18.0 - 19.0</text>
<path d="M1.04,1.61C1.57,1.26 2.67,0.77 3.48,0.77C4.29,0.77 5.16,1.33 5.91,1.61C6.67,1.89 7.19,2.53 8.00,2.45C8.81,2.38 9.80,1.57 10.78,1.16C11.77,0.75 13.25,0.03 13.91,0.00C14.57,-0.03 14.66,0.48 14.75,0.97C14.84,1.45 14.56,2.33 14.47,2.90C14.38,3.47 14.03,3.95 14.19,4.39C14.35,4.83 15.14,5.04 15.44,5.55C15.74,6.05 16.08,6.78 16.00,7.42C15.92,8.05 15.48,8.92 14.96,9.35C14.43,9.78 13.57,10.02 12.87,10.00C12.17,9.98 11.48,9.60 10.78,9.23C10.09,8.85 9.39,7.80 8.70,7.74C8.00,7.69 7.36,8.58 6.61,8.90C5.86,9.23 4.99,9.60 4.17,9.68C3.36,9.75 2.38,9.68 1.74,9.35C1.10,9.03 0.64,8.44 0.35,7.74C0.06,7.04 0.00,5.97 0.00,5.16C0.00,4.35 0.17,3.49 0.35,2.90C0.52,2.31 0.52,1.97 1.04,1.61Z" transform="translate(176.2,209.9) scale(0.969,0.950)" fill="#ff5010" stroke="#5a5a5a" stroke-width="0.7"/>
<text x="198.5" y="217.3" font-size="7.1" fill="#1a1a1a" stroke="#1a1a1a" stroke-width="0.15">19.0 - 20.0</text>
<path d="M1.04,1.61C1.57,1.26 2.67,0.77 3.48,0.77C4.29,0.77 5.16,1.33 5.91,1.61C6.67,1.89 7.19,2.53 8.00,2.45C8.81,2.38 9.80,1.57 10.78,1.16C11.77,0.75 13.25,0.03 13.91,0.00C14.57,-0.03 14.66,0.48 14.75,0.97C14.84,1.45 14.56,2.33 14.47,2.90C14.38,3.47 14.03,3.95 14.19,4.39C14.35,4.83 15.14,5.04 15.44,5.55C15.74,6.05 16.08,6.78 16.00,7.42C15.92,8.05 15.48,8.92 14.96,9.35C14.43,9.78 13.57,10.02 12.87,10.00C12.17,9.98 11.48,9.60 10.78,9.23C10.09,8.85 9.39,7.80 8.70,7.74C8.00,7.69 7.36,8.58 6.61,8.90C5.86,9.23 4.99,9.60 4.17,9.68C3.36,9.75 2.38,9.68 1.74,9.35C1.10,9.03 0.64,8.44 0.35,7.74C0.06,7.04 0.00,5.97 0.00,5.16C0.00,4.35 0.17,3.49 0.35,2.90C0.52,2.31 0.52,1.97 1.04,1.61Z" transform="translate(176.2,223.9) scale(0.969,0.950)" fill="#fb0e0e" stroke="#5a5a5a" stroke-width="0.7"/>
<text x="198.5" y="231.2" font-size="7.1" fill="#1a1a1a" stroke="#1a1a1a" stroke-width="0.15">&gt; 20.0</text>
<use href="#dots"/>
<g><rect x="9.45" y="9.9" width="238" height="254.55" fill="none" stroke="#1c1c1c" stroke-width="1.15"/>
<path d="M13.6,9.4v-2.2M10.1,265v2.2" stroke="#111" stroke-width="1.2"/>
<text x="5.1" y="6.4" font-size="5.3" fill="#222" textLength="17.2" lengthAdjust="spacingAndGlyphs">35°35'E</text>
<text x="1.8" y="272.3" font-size="5.3" fill="#222" textLength="17.2" lengthAdjust="spacingAndGlyphs">35°35'E</text>
<path d="M68.6,9.4v-2.2M65.1,265v2.2" stroke="#111" stroke-width="1.2"/>
<text x="60.1" y="6.4" font-size="5.3" fill="#222" textLength="17.2" lengthAdjust="spacingAndGlyphs">35°40'E</text>
<text x="56.8" y="272.3" font-size="5.3" fill="#222" textLength="17.2" lengthAdjust="spacingAndGlyphs">35°40'E</text>
<path d="M123.6,9.4v-2.2M120.1,265v2.2" stroke="#111" stroke-width="1.2"/>
<text x="115.1" y="6.4" font-size="5.3" fill="#222" textLength="17.2" lengthAdjust="spacingAndGlyphs">35°45'E</text>
<text x="111.8" y="272.3" font-size="5.3" fill="#222" textLength="17.2" lengthAdjust="spacingAndGlyphs">35°45'E</text>
<path d="M178.6,9.4v-2.2M175.1,265v2.2" stroke="#111" stroke-width="1.2"/>
<text x="170.1" y="6.4" font-size="5.3" fill="#222" textLength="17.2" lengthAdjust="spacingAndGlyphs">35°50'E</text>
<text x="166.8" y="272.3" font-size="5.3" fill="#222" textLength="17.2" lengthAdjust="spacingAndGlyphs">35°50'E</text>
<path d="M233.6,9.4v-2.2M230.1,265v2.2" stroke="#111" stroke-width="1.2"/>
<text x="225.1" y="6.4" font-size="5.3" fill="#222" textLength="17.2" lengthAdjust="spacingAndGlyphs">35°55'E</text>
<text x="221.8" y="272.3" font-size="5.3" fill="#222" textLength="17.2" lengthAdjust="spacingAndGlyphs">35°55'E</text>
<path d="M8.9,49.6h-2.2M248,52.3h2.2" stroke="#111" stroke-width="1.2"/>
<text transform="translate(5.8,49.6) rotate(-90)" x="-8.8" font-size="5.3" fill="#222" textLength="17.6" lengthAdjust="spacingAndGlyphs">32°24'N</text>
<text transform="translate(254.5,52.6) rotate(-90)" x="-8.8" font-size="5.3" fill="#222" textLength="17.6" lengthAdjust="spacingAndGlyphs">32°24'N</text>
<path d="M8.9,101.5h-2.2M248,104.2h2.2" stroke="#111" stroke-width="1.2"/>
<text transform="translate(5.8,101.5) rotate(-90)" x="-8.8" font-size="5.3" fill="#222" textLength="17.6" lengthAdjust="spacingAndGlyphs">32°20'N</text>
<text transform="translate(254.5,104.5) rotate(-90)" x="-8.8" font-size="5.3" fill="#222" textLength="17.6" lengthAdjust="spacingAndGlyphs">32°20'N</text>
<path d="M8.9,153.4h-2.2M248,156.1h2.2" stroke="#111" stroke-width="1.2"/>
<text transform="translate(5.8,153.4) rotate(-90)" x="-8.8" font-size="5.3" fill="#222" textLength="17.6" lengthAdjust="spacingAndGlyphs">32°16'N</text>
<text transform="translate(254.5,156.4) rotate(-90)" x="-8.8" font-size="5.3" fill="#222" textLength="17.6" lengthAdjust="spacingAndGlyphs">32°16'N</text>
<path d="M8.9,205.3h-2.2M248,208.0h2.2" stroke="#111" stroke-width="1.2"/>
<text transform="translate(5.8,205.3) rotate(-90)" x="-8.8" font-size="5.3" fill="#222" textLength="17.6" lengthAdjust="spacingAndGlyphs">32°12'N</text>
<text transform="translate(254.5,208.3) rotate(-90)" x="-8.8" font-size="5.3" fill="#222" textLength="17.6" lengthAdjust="spacingAndGlyphs">32°12'N</text>
<path d="M8.9,257.2h-2.2M248,259.9h2.2" stroke="#111" stroke-width="1.2"/>
<text transform="translate(5.8,257.2) rotate(-90)" x="-7.5" font-size="5.3" fill="#222" textLength="14.9" lengthAdjust="spacingAndGlyphs">32°8'N</text>
<text transform="translate(254.5,260.2) rotate(-90)" x="-7.5" font-size="5.3" fill="#222" textLength="14.9" lengthAdjust="spacingAndGlyphs">32°8'N</text>
<rect x="17" y="19.3" width="2" height="2" fill="#000"/>
<rect x="17" y="29.7" width="2" height="2" fill="#1e58dc"/>
<text x="28.8" y="23.3" font-size="8.1" fill="#111" stroke="#111" stroke-width="0.22" textLength="85" lengthAdjust="spacingAndGlyphs">Forest fire for validating</text>
<text x="28.8" y="33.7" font-size="8.1" fill="#111" stroke="#111" stroke-width="0.22" textLength="77" lengthAdjust="spacingAndGlyphs">Forest fire for training</text>
<g transform="translate(225.7,31.3)">
<path d="M0,-9.6L1.1,-2.6L-1.1,-2.6ZM0,9.6L1.1,2.6L-1.1,2.6ZM-9.6,0L-2.6,-1.1L-2.6,1.1ZM9.6,0L2.6,-1.1L2.6,1.1Z" fill="#1a1a1a"/>
<path d="M0,-9.6V9.6M-9.6,0H9.6" stroke="#1a1a1a" stroke-width="0.5"/>
<circle r="3.7" fill="#fff" stroke="#1a1a1a" stroke-width="0.8"/>
<path d="M0,0L0,-3.7A3.7,3.7 0 0 1 3.7,0ZM0,0L0,3.7A3.7,3.7 0 0 1 -3.7,0Z" fill="#111"/>
<path d="M0,-3.7V3.7M-3.7,0H3.7" stroke="#1a1a1a" stroke-width="0.4"/>
<text x="0.2" y="-11.1" font-family="Liberation Serif, serif" font-weight="bold" font-size="5" text-anchor="middle" fill="#111">N</text><text x="0.2" y="14.5" font-family="Liberation Serif, serif" font-weight="bold" font-size="5" text-anchor="middle" fill="#111">S</text><text x="-12.6" y="1.6" font-family="Liberation Serif, serif" font-weight="bold" font-size="5" text-anchor="middle" fill="#111">W</text><text x="11.8" y="1.7" font-family="Liberation Serif, serif" font-weight="bold" font-size="5" text-anchor="middle" fill="#111">E</text>
</g>
<path d="M166.5,128.0h57.4M166.90,128.0v4.2M173.98,128.0v4.2M181.06,128.0v4.2M188.14,128.0v2.6M195.22,128.0v4.2M202.30,128.0v2.6M209.38,128.0v4.2M216.46,128.0v2.6M223.54,128.0v4.2" stroke="#222" stroke-width="0.9" fill="none"/>
<text x="166.9" y="138.9" font-size="5" text-anchor="middle" fill="#222">0</text>
<text x="174.0" y="138.9" font-size="5" text-anchor="middle" fill="#222">1</text>
<text x="181.1" y="138.9" font-size="5" text-anchor="middle" fill="#222">2</text>
<text x="195.2" y="138.9" font-size="5" text-anchor="middle" fill="#222">4</text>
<text x="209.4" y="138.9" font-size="5" text-anchor="middle" fill="#222">6</text>
<text x="223.5" y="138.9" font-size="5" text-anchor="middle" fill="#222">8</text>
<text x="226.5" y="138.9" font-size="5" fill="#222">Km</text></g>
<text x="126.9" y="24.6" font-size="9.2" font-weight="bold" font-style="italic" fill="#111" stroke="#111" stroke-width="0.15">(g)</text>
</g>
<g transform="translate(258.4,276)">
<g clip-path="url(#clipH)">
<g transform="rotate(-38 120 120)"><g filter="url(#fh)">
<g transform="rotate(38 120 120)">
<rect x="11.6" y="12" width="12.5" height="12.5" fill="#4d4d4d"/>
<rect x="23.6" y="12" width="12.5" height="12.5" fill="#4d4d4d"/>
<rect x="35.6" y="12" width="12.5" height="12.5" fill="#333333"/>
<rect x="47.6" y="12" width="12.5" height="12.5" fill="#404040"/>
<rect x="59.6" y="12" width="12.5" height="12.5" fill="#4d4d4d"/>
<rect x="71.6" y="12" width="12.5" height="12.5" fill="#4d4d4d"/>
<rect x="83.6" y="12" width="12.5" height="12.5" fill="#8c8c8c"/>
<rect x="95.6" y="12" width="12.5" height="12.5" fill="#808080"/>
<rect x="107.6" y="12" width="12.5" height="12.5" fill="#808080"/>
<rect x="119.6" y="12" width="12.5" height="12.5" fill="#808080"/>
<rect x="131.6" y="12" width="12.5" height="12.5" fill="#8c8c8c"/>
<rect x="143.6" y="12" width="12.5" height="12.5" fill="#8c8c8c"/>
<rect x="155.6" y="12" width="12.5" height="12.5" fill="#a6a6a6"/>
<rect x="167.6" y="12" width="12.5" height="12.5" fill="#a6a6a6"/>
<rect x="179.6" y="12" width="12.5" height="12.5" fill="#a6a6a6"/>
<rect x="191.6" y="12" width="12.5" height="12.5" fill="#a6a6a6"/>
<rect x="203.6" y="12" width="12.5" height="12.5" fill="#a6a6a6"/>
<rect x="215.6" y="12" width="12.5" height="12.5" fill="#a6a6a6"/>
<rect x="227.6" y="12" width="12.5" height="12.5" fill="#a6a6a6"/>
<rect x="11.6" y="24" width="12.5" height="12.5" fill="#4d4d4d"/>
<rect x="23.6" y="24" width="12.5" height="12.5" fill="#4d4d4d"/>
<rect x="35.6" y="24" width="12.5" height="12.5" fill="#333333"/>
<rect x="47.6" y="24" width="12.5" height="12.5" fill="#404040"/>
<rect x="59.6" y="24" width="12.5" height="12.5" fill="#4d4d4d"/>
<rect x="71.6" y="24" width="12.5" height="12.5" fill="#4d4d4d"/>
<rect x="83.6" y="24" width="12.5" height="12.5" fill="#8c8c8c"/>
<rect x="95.6" y="24" width="12.5" height="12.5" fill="#808080"/>
<rect x="107.6" y="24" width="12.5" height="12.5" fill="#808080"/>
<rect x="119.6" y="24" width="12.5" height="12.5" fill="#808080"/>
<rect x="131.6" y="24" width="12.5" height="12.5" fill="#8c8c8c"/>
<rect x="143.6" y="24" width="12.5" height="12.5" fill="#8c8c8c"/>
<rect x="155.6" y="24" width="12.5" height="12.5" fill="#a6a6a6"/>
<rect x="167.6" y="24" width="12.5" height="12.5" fill="#a6a6a6"/>
<rect x="179.6" y="24" width="12.5" height="12.5" fill="#a6a6a6"/>
<rect x="191.6" y="24" width="12.5" height="12.5" fill="#a6a6a6"/>
<rect x="203.6" y="24" width="12.5" height="12.5" fill="#a6a6a6"/>
<rect x="215.6" y="24" width="12.5" height="12.5" fill="#a6a6a6"/>
<rect x="227.6" y="24" width="12.5" height="12.5" fill="#a6a6a6"/>
<rect x="11.6" y="36" width="12.5" height="12.5" fill="#4d4d4d"/>
<rect x="23.6" y="36" width="12.5" height="12.5" fill="#4d4d4d"/>
<rect x="35.6" y="36" width="12.5" height="12.5" fill="#333333"/>
<rect x="47.6" y="36" width="12.5" height="12.5" fill="#404040"/>
<rect x="59.6" y="36" width="12.5" height="12.5" fill="#4d4d4d"/>
<rect x="71.6" y="36" width="12.5" height="12.5" fill="#4d4d4d"/>
<rect x="83.6" y="36" width="12.5" height="12.5" fill="#8c8c8c"/>
<rect x="95.6" y="36" width="12.5" height="12.5" fill="#8c8c8c"/>
<rect x="107.6" y="36" width="12.5" height="12.5" fill="#737373"/>
<rect x="119.6" y="36" width="12.5" height="12.5" fill="#737373"/>
<rect x="131.6" y="36" width="12.5" height="12.5" fill="#808080"/>
<rect x="143.6" y="36" width="12.5" height="12.5" fill="#8c8c8c"/>
<rect x="155.6" y="36" width="12.5" height="12.5" fill="#a6a6a6"/>
<rect x="167.6" y="36" width="12.5" height="12.5" fill="#a6a6a6"/>
<rect x="179.6" y="36" width="12.5" height="12.5" fill="#999999"/>
<rect x="191.6" y="36" width="12.5" height="12.5" fill="#a6a6a6"/>
<rect x="203.6" y="36" width="12.5" height="12.5" fill="#a6a6a6"/>
<rect x="215.6" y="36" width="12.5" height="12.5" fill="#a6a6a6"/>
<rect x="227.6" y="36" width="12.5" height="12.5" fill="#a6a6a6"/>
<rect x="11.6" y="48" width="12.5" height="12.5" fill="#4d4d4d"/>
<rect x="23.6" y="48" width="12.5" height="12.5" fill="#4d4d4d"/>
<rect x="35.6" y="48" width="12.5" height="12.5" fill="#333333"/>
<rect x="47.6" y="48" width="12.5" height="12.5" fill="#404040"/>
<rect x="59.6" y="48" width="12.5" height="12.5" fill="#4d4d4d"/>
<rect x="71.6" y="48" width="12.5" height="12.5" fill="#4d4d4d"/>
<rect x="83.6" y="48" width="12.5" height="12.5" fill="#8c8c8c"/>
<rect x="95.6" y="48" width="12.5" height="12.5" fill="#8c8c8c"/>
<rect x="107.6" y="48" width="12.5" height="12.5" fill="#a6a6a6"/>
<rect x="119.6" y="48" width="12.5" height="12.5" fill="#595959"/>
<rect x="131.6" y="48" width="12.5" height="12.5" fill="#8c8c8c"/>
<rect x="143.6" y="48" width="12.5" height="12.5" fill="#8c8c8c"/>
<rect x="155.6" y="48" width="12.5" height="12.5" fill="#a6a6a6"/>
<rect x="167.6" y="48" width="12.5" height="12.5" fill="#b3b3b3"/>
<rect x="179.6" y="48" width="12.5" height="12.5" fill="#a6a6a6"/>
<rect x="191.6" y="48" width="12.5" height="12.5" fill="#a6a6a6"/>
<rect x="203.6" y="48" width="12.5" height="12.5" fill="#a6a6a6"/>
<rect x="215.6" y="48" width="12.5" height="12.5" fill="#a6a6a6"/>
<rect x="227.6" y="48" width="12.5" height="12.5" fill="#a6a6a6"/>
<rect x="11.6" y="60" width="12.5" height="12.5" fill="#595959"/>
<rect x="23.6" y="60" width="12.5" height="12.5" fill="#595959"/>
<rect x="35.6" y="60" width="12.5" height="12.5" fill="#404040"/>
<rect x="47.6" y="60" width="12.5" height="12.5" fill="#333333"/>
<rect x="59.6" y="60" width="12.5" height="12.5" fill="#666666"/>
<rect x="71.6" y="60" width="12.5" height="12.5" fill="#666666"/>
<rect x="83.6" y="60" width="12.5" height="12.5" fill="#595959"/>
<rect x="95.6" y="60" width="12.5" height="12.5" fill="#8c8c8c"/>
<rect x="107.6" y="60" width="12.5" height="12.5" fill="#999999"/>
<rect x="119.6" y="60" width="12.5" height="12.5" fill="#595959"/>
<rect x="131.6" y="60" width="12.5" height="12.5" fill="#737373"/>
<rect x="143.6" y="60" width="12.5" height="12.5" fill="#8c8c8c"/>
<rect x="155.6" y="60" width="12.5" height="12.5" fill="#b3b3b3"/>
<rect x="167.6" y="60" width="12.5" height="12.5" fill="#a6a6a6"/>
<rect x="179.6" y="60" width="12.5" height="12.5" fill="#b3b3b3"/>
<rect x="191.6" y="60" width="12.5" height="12.5" fill="#a6a6a6"/>
<rect x="203.6" y="60" width="12.5" height="12.5" fill="#a6a6a6"/>
<rect x="215.6" y="60" width="12.5" height="12.5" fill="#a6a6a6"/>
<rect x="227.6" y="60" width="12.5" height="12.5" fill="#a6a6a6"/>
<rect x="11.6" y="72" width="12.5" height="12.5" fill="#666666"/>
<rect x="23.6" y="72" width="12.5" height="12.5" fill="#666666"/>
<rect x="35.6" y="72" width="12.5" height="12.5" fill="#404040"/>
<rect x="47.6" y="72" width="12.5" height="12.5" fill="#404040"/>
<rect x="59.6" y="72" width="12.5" height="12.5" fill="#595959"/>
<rect x="71.6" y="72" width="12.5" height="12.5" fill="#666666"/>
<rect x="83.6" y="72" width="12.5" height="12.5" fill="#4d4d4d"/>
<rect x="95.6" y="72" width="12.5" height="12.5" fill="#737373"/>
<rect x="107.6" y="72" width="12.5" height="12.5" fill="#999999"/>
<rect x="119.6" y="72" width="12.5" height="12.5" fill="#999999"/>
<rect x="131.6" y="72" width="12.5" height="12.5" fill="#8c8c8c"/>
<rect x="143.6" y="72" width="12.5" height="12.5" fill="#999999"/>
<rect x="155.6" y="72" width="12.5" height="12.5" fill="#b3b3b3"/>
<rect x="167.6" y="72" width="12.5" height="12.5" fill="#a6a6a6"/>
<rect x="179.6" y="72" width="12.5" height="12.5" fill="#b3b3b3"/>
<rect x="191.6" y="72" width="12.5" height="12.5" fill="#a6a6a6"/>
<rect x="203.6" y="72" width="12.5" height="12.5" fill="#a6a6a6"/>
<rect x="215.6" y="72" width="12.5" height="12.5" fill="#a6a6a6"/>
<rect x="227.6" y="72" width="12.5" height="12.5" fill="#a6a6a6"/>
<rect x="11.6" y="84" width="12.5" height="12.5" fill="#666666"/>
<rect x="23.6" y="84" width="12.5" height="12.5" fill="#666666"/>
<rect x="35.6" y="84" width="12.5" height="12.5" fill="#666666"/>
<rect x="47.6" y="84" width="12.5" height="12.5" fill="#4d4d4d"/>
<rect x="59.6" y="84" width="12.5" height="12.5" fill="#4d4d4d"/>
<rect x="71.6" y="84" width="12.5" height="12.5" fill="#737373"/>
<rect x="83.6" y="84" width="12.5" height="12.5" fill="#666666"/>
<rect x="95.6" y="84" width="12.5" height="12.5" fill="#808080"/>
<rect x="107.6" y="84" width="12.5" height="12.5" fill="#999999"/>
<rect x="119.6" y="84" width="12.5" height="12.5" fill="#a6a6a6"/>
<rect x="131.6" y="84" width="12.5" height="12.5" fill="#999999"/>
<rect x="143.6" y="84" width="12.5" height="12.5" fill="#a6a6a6"/>
<rect x="155.6" y="84" width="12.5" height="12.5" fill="#999999"/>
<rect x="167.6" y="84" width="12.5" height="12.5" fill="#a6a6a6"/>
<rect x="179.6" y="84" width="12.5" height="12.5" fill="#b3b3b3"/>
<rect x="191.6" y="84" width="12.5" height="12.5" fill="#a6a6a6"/>
<rect x="203.6" y="84" width="12.5" height="12.5" fill="#a6a6a6"/>
<rect x="215.6" y="84" width="12.5" height="12.5" fill="#a6a6a6"/>
<rect x="227.6" y="84" width="12.5" height="12.5" fill="#a6a6a6"/>
<rect x="11.6" y="96" width="12.5" height="12.5" fill="#666666"/>
<rect x="23.6" y="96" width="12.5" height="12.5" fill="#737373"/>
<rect x="35.6" y="96" width="12.5" height="12.5" fill="#595959"/>
<rect x="47.6" y="96" width="12.5" height="12.5" fill="#808080"/>
<rect x="59.6" y="96" width="12.5" height="12.5" fill="#4d4d4d"/>
<rect x="71.6" y="96" width="12.5" height="12.5" fill="#595959"/>
<rect x="83.6" y="96" width="12.5" height="12.5" fill="#666666"/>
<rect x="95.6" y="96" width="12.5" height="12.5" fill="#b3b3b3"/>
<rect x="107.6" y="96" width="12.5" height="12.5" fill="#b3b3b3"/>
<rect x="119.6" y="96" width="12.5" height="12.5" fill="#808080"/>
<rect x="131.6" y="96" width="12.5" height="12.5" fill="#a6a6a6"/>
<rect x="143.6" y="96" width="12.5" height="12.5" fill="#8c8c8c"/>
<rect x="155.6" y="96" width="12.5" height="12.5" fill="#8c8c8c"/>
<rect x="167.6" y="96" width="12.5" height="12.5" fill="#a6a6a6"/>
<rect x="179.6" y="96" width="12.5" height="12.5" fill="#a6a6a6"/>
<rect x="191.6" y="96" width="12.5" height="12.5" fill="#a6a6a6"/>
<rect x="203.6" y="96" width="12.5" height="12.5" fill="#a6a6a6"/>
<rect x="215.6" y="96" width="12.5" height="12.5" fill="#a6a6a6"/>
<rect x="227.6" y="96" width="12.5" height="12.5" fill="#a6a6a6"/>
<rect x="11.6" y="108" width="12.5" height="12.5" fill="#666666"/>
<rect x="23.6" y="108" width="12.5" height="12.5" fill="#8c8c8c"/>
<rect x="35.6" y="108" width="12.5" height="12.5" fill="#737373"/>
<rect x="47.6" y="108" width="12.5" height="12.5" fill="#595959"/>
<rect x="59.6" y="108" width="12.5" height="12.5" fill="#666666"/>
<rect x="71.6" y="108" width="12.5" height="12.5" fill="#999999"/>
<rect x="83.6" y="108" width="12.5" height="12.5" fill="#404040"/>
<rect x="95.6" y="108" width="12.5" height="12.5" fill="#8c8c8c"/>
<rect x="107.6" y="108" width="12.5" height="12.5" fill="#b3b3b3"/>
<rect x="119.6" y="108" width="12.5" height="12.5" fill="#595959"/>
<rect x="131.6" y="108" width="12.5" height="12.5" fill="#a6a6a6"/>
<rect x="143.6" y="108" width="12.5" height="12.5" fill="#999999"/>
<rect x="155.6" y="108" width="12.5" height="12.5" fill="#8c8c8c"/>
<rect x="167.6" y="108" width="12.5" height="12.5" fill="#8c8c8c"/>
<rect x="179.6" y="108" width="12.5" height="12.5" fill="#a6a6a6"/>
<rect x="191.6" y="108" width="12.5" height="12.5" fill="#a6a6a6"/>
<rect x="203.6" y="108" width="12.5" height="12.5" fill="#a6a6a6"/>
<rect x="215.6" y="108" width="12.5" height="12.5" fill="#a6a6a6"/>
<rect x="227.6" y="108" width="12.5" height="12.5" fill="#a6a6a6"/>
<rect x="11.6" y="120" width="12.5" height="12.5" fill="#666666"/>
<rect x="23.6" y="120" width="12.5" height="12.5" fill="#595959"/>
<rect x="35.6" y="120" width="12.5" height="12.5" fill="#8c8c8c"/>
<rect x="47.6" y="120" width="12.5" height="12.5" fill="#999999"/>
<rect x="59.6" y="120" width="12.5" height="12.5" fill="#808080"/>
<rect x="71.6" y="120" width="12.5" height="12.5" fill="#333333"/>
<rect x="83.6" y="120" width="12.5" height="12.5" fill="#808080"/>
<rect x="95.6" y="120" width="12.5" height="12.5" fill="#a6a6a6"/>
<rect x="107.6" y="120" width="12.5" height="12.5" fill="#a6a6a6"/>
<rect x="119.6" y="120" width="12.5" height="12.5" fill="#a6a6a6"/>
<rect x="131.6" y="120" width="12.5" height="12.5" fill="#8c8c8c"/>
<rect x="143.6" y="120" width="12.5" height="12.5" fill="#808080"/>
<rect x="155.6" y="120" width="12.5" height="12.5" fill="#808080"/>
<rect x="167.6" y="120" width="12.5" height="12.5" fill="#808080"/>
<rect x="179.6" y="120" width="12.5" height="12.5" fill="#8c8c8c"/>
<rect x="191.6" y="120" width="12.5" height="12.5" fill="#a6a6a6"/>
<rect x="203.6" y="120" width="12.5" height="12.5" fill="#a6a6a6"/>
<rect x="215.6" y="120" width="12.5" height="12.5" fill="#a6a6a6"/>
<rect x="227.6" y="120" width="12.5" height="12.5" fill="#a6a6a6"/>
<rect x="11.6" y="132" width="12.5" height="12.5" fill="#666666"/>
<rect x="23.6" y="132" width="12.5" height="12.5" fill="#666666"/>
<rect x="35.6" y="132" width="12.5" height="12.5" fill="#808080"/>
<rect x="47.6" y="132" width="12.5" height="12.5" fill="#4d4d4d"/>
<rect x="59.6" y="132" width="12.5" height="12.5" fill="#1a1a1a"/>
<rect x="71.6" y="132" width="12.5" height="12.5" fill="#666666"/>
<rect x="83.6" y="132" width="12.5" height="12.5" fill="#a6a6a6"/>
<rect x="95.6" y="132" width="12.5" height="12.5" fill="#999999"/>
<rect x="107.6" y="132" width="12.5" height="12.5" fill="#a6a6a6"/>
<rect x="119.6" y="132" width="12.5" height="12.5" fill="#999999"/>
<rect x="131.6" y="132" width="12.5" height="12.5" fill="#a6a6a6"/>
<rect x="143.6" y="132" width="12.5" height="12.5" fill="#808080"/>
<rect x="155.6" y="132" width="12.5" height="12.5" fill="#808080"/>
<rect x="167.6" y="132" width="12.5" height="12.5" fill="#808080"/>
<rect x="179.6" y="132" width="12.5" height="12.5" fill="#808080"/>
<rect x="191.6" y="132" width="12.5" height="12.5" fill="#808080"/>
<rect x="203.6" y="132" width="12.5" height="12.5" fill="#a6a6a6"/>
<rect x="215.6" y="132" width="12.5" height="12.5" fill="#a6a6a6"/>
<rect x="227.6" y="132" width="12.5" height="12.5" fill="#a6a6a6"/>
<rect x="11.6" y="144" width="12.5" height="12.5" fill="#666666"/>
<rect x="23.6" y="144" width="12.5" height="12.5" fill="#666666"/>
<rect x="35.6" y="144" width="12.5" height="12.5" fill="#4d4d4d"/>
<rect x="47.6" y="144" width="12.5" height="12.5" fill="#262626"/>
<rect x="59.6" y="144" width="12.5" height="12.5" fill="#404040"/>
<rect x="71.6" y="144" width="12.5" height="12.5" fill="#999999"/>
<rect x="83.6" y="144" width="12.5" height="12.5" fill="#a6a6a6"/>
<rect x="95.6" y="144" width="12.5" height="12.5" fill="#8c8c8c"/>
<rect x="107.6" y="144" width="12.5" height="12.5" fill="#999999"/>
<rect x="119.6" y="144" width="12.5" height="12.5" fill="#737373"/>
<rect x="131.6" y="144" width="12.5" height="12.5" fill="#999999"/>
<rect x="143.6" y="144" width="12.5" height="12.5" fill="#808080"/>
<rect x="155.6" y="144" width="12.5" height="12.5" fill="#808080"/>
<rect x="167.6" y="144" width="12.5" height="12.5" fill="#808080"/>
<rect x="179.6" y="144" width="12.5" height="12.5" fill="#808080"/>
<rect x="191.6" y="144" width="12.5" height="12.5" fill="#808080"/>
<rect x="203.6" y="144" width="12.5" height="12.5" fill="#808080"/>
<rect x="215.6" y="144" width="12.5" height="12.5" fill="#808080"/>
<rect x="227.6" y="144" width="12.5" height="12.5" fill="#a6a6a6"/>
<rect x="11.6" y="156" width="12.5" height="12.5" fill="#666666"/>
<rect x="23.6" y="156" width="12.5" height="12.5" fill="#666666"/>
<rect x="35.6" y="156" width="12.5" height="12.5" fill="#666666"/>
<rect x="47.6" y="156" width="12.5" height="12.5" fill="#8c8c8c"/>
<rect x="59.6" y="156" width="12.5" height="12.5" fill="#a6a6a6"/>
<rect x="71.6" y="156" width="12.5" height="12.5" fill="#999999"/>
<rect x="83.6" y="156" width="12.5" height="12.5" fill="#8c8c8c"/>
<rect x="95.6" y="156" width="12.5" height="12.5" fill="#8c8c8c"/>
<rect x="107.6" y="156" width="12.5" height="12.5" fill="#999999"/>
<rect x="119.6" y="156" width="12.5" height="12.5" fill="#404040"/>
<rect x="131.6" y="156" width="12.5" height="12.5" fill="#595959"/>
<rect x="143.6" y="156" width="12.5" height="12.5" fill="#808080"/>
<rect x="155.6" y="156" width="12.5" height="12.5" fill="#808080"/>
<rect x="167.6" y="156" width="12.5" height="12.5" fill="#808080"/>
<rect x="179.6" y="156" width="12.5" height="12.5" fill="#808080"/>
<rect x="191.6" y="156" width="12.5" height="12.5" fill="#808080"/>
<rect x="203.6" y="156" width="12.5" height="12.5" fill="#808080"/>
<rect x="215.6" y="156" width="12.5" height="12.5" fill="#808080"/>
<rect x="227.6" y="156" width="12.5" height="12.5" fill="#808080"/>
<rect x="11.6" y="168" width="12.5" height="12.5" fill="#666666"/>
<rect x="23.6" y="168" width="12.5" height="12.5" fill="#666666"/>
<rect x="35.6" y="168" width="12.5" height="12.5" fill="#666666"/>
<rect x="47.6" y="168" width="12.5" height="12.5" fill="#4d4d4d"/>
<rect x="59.6" y="168" width="12.5" height="12.5" fill="#333333"/>
<rect x="71.6" y="168" width="12.5" height="12.5" fill="#4d4d4d"/>
<rect x="83.6" y="168" width="12.5" height="12.5" fill="#808080"/>
<rect x="95.6" y="168" width="12.5" height="12.5" fill="#a6a6a6"/>
<rect x="107.6" y="168" width="12.5" height="12.5" fill="#b3b3b3"/>
<rect x="119.6" y="168" width="12.5" height="12.5" fill="#999999"/>
<rect x="131.6" y="168" width="12.5" height="12.5" fill="#595959"/>
<rect x="143.6" y="168" width="12.5" height="12.5" fill="#595959"/>
<rect x="155.6" y="168" width="12.5" height="12.5" fill="#808080"/>
<rect x="167.6" y="168" width="12.5" height="12.5" fill="#808080"/>
<rect x="179.6" y="168" width="12.5" height="12.5" fill="#808080"/>
<rect x="191.6" y="168" width="12.5" height="12.5" fill="#808080"/>
<rect x="203.6" y="168" width="12.5" height="12.5" fill="#808080"/>
<rect x="215.6" y="168" width="12.5" height="12.5" fill="#808080"/>
<rect x="227.6" y="168" width="12.5" height="12.5" fill="#808080"/>
<rect x="11.6" y="180" width="12.5" height="12.5" fill="#666666"/>
<rect x="23.6" y="180" width="12.5" height="12.5" fill="#666666"/>
<rect x="35.6" y="180" width="12.5" height="12.5" fill="#666666"/>
<rect x="47.6" y="180" width="12.5" height="12.5" fill="#666666"/>
<rect x="59.6" y="180" width="12.5" height="12.5" fill="#8c8c8c"/>
<rect x="71.6" y="180" width="12.5" height="12.5" fill="#808080"/>
<rect x="83.6" y="180" width="12.5" height="12.5" fill="#808080"/>
<rect x="95.6" y="180" width="12.5" height="12.5" fill="#a6a6a6"/>
<rect x="107.6" y="180" width="12.5" height="12.5" fill="#a6a6a6"/>
<rect x="119.6" y="180" width="12.5" height="12.5" fill="#999999"/>
<rect x="131.6" y="180" width="12.5" height="12.5" fill="#999999"/>
<rect x="143.6" y="180" width="12.5" height="12.5" fill="#595959"/>
<rect x="155.6" y="180" width="12.5" height="12.5" fill="#595959"/>
<rect x="167.6" y="180" width="12.5" height="12.5" fill="#808080"/>
<rect x="179.6" y="180" width="12.5" height="12.5" fill="#808080"/>
<rect x="191.6" y="180" width="12.5" height="12.5" fill="#808080"/>
<rect x="203.6" y="180" width="12.5" height="12.5" fill="#808080"/>
<rect x="215.6" y="180" width="12.5" height="12.5" fill="#808080"/>
<rect x="227.6" y="180" width="12.5" height="12.5" fill="#808080"/>
<rect x="11.6" y="192" width="12.5" height="12.5" fill="#666666"/>
<rect x="23.6" y="192" width="12.5" height="12.5" fill="#666666"/>
<rect x="35.6" y="192" width="12.5" height="12.5" fill="#666666"/>
<rect x="47.6" y="192" width="12.5" height="12.5" fill="#595959"/>
<rect x="59.6" y="192" width="12.5" height="12.5" fill="#737373"/>
<rect x="71.6" y="192" width="12.5" height="12.5" fill="#666666"/>
<rect x="83.6" y="192" width="12.5" height="12.5" fill="#808080"/>
<rect x="95.6" y="192" width="12.5" height="12.5" fill="#a6a6a6"/>
<rect x="107.6" y="192" width="12.5" height="12.5" fill="#a6a6a6"/>
<rect x="119.6" y="192" width="12.5" height="12.5" fill="#a6a6a6"/>
<rect x="131.6" y="192" width="12.5" height="12.5" fill="#999999"/>
<rect x="143.6" y="192" width="12.5" height="12.5" fill="#999999"/>
<rect x="155.6" y="192" width="12.5" height="12.5" fill="#595959"/>
<rect x="167.6" y="192" width="12.5" height="12.5" fill="#595959"/>
<rect x="179.6" y="192" width="12.5" height="12.5" fill="#808080"/>
<rect x="191.6" y="192" width="12.5" height="12.5" fill="#808080"/>
<rect x="203.6" y="192" width="12.5" height="12.5" fill="#808080"/>
<rect x="215.6" y="192" width="12.5" height="12.5" fill="#808080"/>
<rect x="227.6" y="192" width="12.5" height="12.5" fill="#808080"/>
<rect x="11.6" y="204" width="12.5" height="12.5" fill="#666666"/>
<rect x="23.6" y="204" width="12.5" height="12.5" fill="#666666"/>
<rect x="35.6" y="204" width="12.5" height="12.5" fill="#666666"/>
<rect x="47.6" y="204" width="12.5" height="12.5" fill="#666666"/>
<rect x="59.6" y="204" width="12.5" height="12.5" fill="#595959"/>
<rect x="71.6" y="204" width="12.5" height="12.5" fill="#666666"/>
<rect x="83.6" y="204" width="12.5" height="12.5" fill="#666666"/>
<rect x="95.6" y="204" width="12.5" height="12.5" fill="#a6a6a6"/>
<rect x="107.6" y="204" width="12.5" height="12.5" fill="#a6a6a6"/>
<rect x="119.6" y="204" width="12.5" height="12.5" fill="#a6a6a6"/>
<rect x="131.6" y="204" width="12.5" height="12.5" fill="#a6a6a6"/>
<rect x="143.6" y="204" width="12.5" height="12.5" fill="#999999"/>
<rect x="155.6" y="204" width="12.5" height="12.5" fill="#999999"/>
<rect x="167.6" y="204" width="12.5" height="12.5" fill="#595959"/>
<rect x="179.6" y="204" width="12.5" height="12.5" fill="#595959"/>
<rect x="191.6" y="204" width="12.5" height="12.5" fill="#808080"/>
<rect x="203.6" y="204" width="12.5" height="12.5" fill="#808080"/>
<rect x="215.6" y="204" width="12.5" height="12.5" fill="#808080"/>
<rect x="227.6" y="204" width="12.5" height="12.5" fill="#808080"/>
<rect x="11.6" y="216" width="12.5" height="12.5" fill="#666666"/>
<rect x="23.6" y="216" width="12.5" height="12.5" fill="#666666"/>
<rect x="35.6" y="216" width="12.5" height="12.5" fill="#666666"/>
<rect x="47.6" y="216" width="12.5" height="12.5" fill="#666666"/>
<rect x="59.6" y="216" width="12.5" height="12.5" fill="#595959"/>
<rect x="71.6" y="216" width="12.5" height="12.5" fill="#666666"/>
<rect x="83.6" y="216" width="12.5" height="12.5" fill="#666666"/>
<rect x="95.6" y="216" width="12.5" height="12.5" fill="#666666"/>
<rect x="107.6" y="216" width="12.5" height="12.5" fill="#a6a6a6"/>
<rect x="119.6" y="216" width="12.5" height="12.5" fill="#a6a6a6"/>
<rect x="131.6" y="216" width="12.5" height="12.5" fill="#a6a6a6"/>
<rect x="143.6" y="216" width="12.5" height="12.5" fill="#a6a6a6"/>
<rect x="155.6" y="216" width="12.5" height="12.5" fill="#999999"/>
<rect x="167.6" y="216" width="12.5" height="12.5" fill="#999999"/>
<rect x="179.6" y="216" width="12.5" height="12.5" fill="#595959"/>
<rect x="191.6" y="216" width="12.5" height="12.5" fill="#595959"/>
<rect x="203.6" y="216" width="12.5" height="12.5" fill="#808080"/>
<rect x="215.6" y="216" width="12.5" height="12.5" fill="#808080"/>
<rect x="227.6" y="216" width="12.5" height="12.5" fill="#808080"/>
</g>
</g></g>
</g>
<text x="155.5" y="188.4" font-size="9.4" font-weight="bold" fill="#111" textLength="78.2" lengthAdjust="spacingAndGlyphs">Wind speed (m/s)</text>
<path d="M1.04,1.61C1.57,1.26 2.67,0.77 3.48,0.77C4.29,0.77 5.16,1.33 5.91,1.61C6.67,1.89 7.19,2.53 8.00,2.45C8.81,2.38 9.80,1.57 10.78,1.16C11.77,0.75 13.25,0.03 13.91,0.00C14.57,-0.03 14.66,0.48 14.75,0.97C14.84,1.45 14.56,2.33 14.47,2.90C14.38,3.47 14.03,3.95 14.19,4.39C14.35,4.83 15.14,5.04 15.44,5.55C15.74,6.05 16.08,6.78 16.00,7.42C15.92,8.05 15.48,8.92 14.96,9.35C14.43,9.78 13.57,10.02 12.87,10.00C12.17,9.98 11.48,9.60 10.78,9.23C10.09,8.85 9.39,7.80 8.70,7.74C8.00,7.69 7.36,8.58 6.61,8.90C5.86,9.23 4.99,9.60 4.17,9.68C3.36,9.75 2.38,9.68 1.74,9.35C1.10,9.03 0.64,8.44 0.35,7.74C0.06,7.04 0.00,5.97 0.00,5.16C0.00,4.35 0.17,3.49 0.35,2.90C0.52,2.31 0.52,1.97 1.04,1.61Z" transform="translate(171.5,196.3) scale(1.031,1.000)" fill="#dcf5e8" stroke="#5a5a5a" stroke-width="0.7"/>
<text x="194.5" y="204.0" font-size="7.6" fill="#1a1a1a" stroke="#1a1a1a" stroke-width="0.15">&lt; 2</text>
<path d="M1.04,1.61C1.57,1.26 2.67,0.77 3.48,0.77C4.29,0.77 5.16,1.33 5.91,1.61C6.67,1.89 7.19,2.53 8.00,2.45C8.81,2.38 9.80,1.57 10.78,1.16C11.77,0.75 13.25,0.03 13.91,0.00C14.57,-0.03 14.66,0.48 14.75,0.97C14.84,1.45 14.56,2.33 14.47,2.90C14.38,3.47 14.03,3.95 14.19,4.39C14.35,4.83 15.14,5.04 15.44,5.55C15.74,6.05 16.08,6.78 16.00,7.42C15.92,8.05 15.48,8.92 14.96,9.35C14.43,9.78 13.57,10.02 12.87,10.00C12.17,9.98 11.48,9.60 10.78,9.23C10.09,8.85 9.39,7.80 8.70,7.74C8.00,7.69 7.36,8.58 6.61,8.90C5.86,9.23 4.99,9.60 4.17,9.68C3.36,9.75 2.38,9.68 1.74,9.35C1.10,9.03 0.64,8.44 0.35,7.74C0.06,7.04 0.00,5.97 0.00,5.16C0.00,4.35 0.17,3.49 0.35,2.90C0.52,2.31 0.52,1.97 1.04,1.61Z" transform="translate(171.5,210.0) scale(1.031,1.000)" fill="#96c8a5" stroke="#5a5a5a" stroke-width="0.7"/>
<text x="194.5" y="217.7" font-size="7.6" fill="#1a1a1a" stroke="#1a1a1a" stroke-width="0.15">2 - 4</text>
<path d="M1.04,1.61C1.57,1.26 2.67,0.77 3.48,0.77C4.29,0.77 5.16,1.33 5.91,1.61C6.67,1.89 7.19,2.53 8.00,2.45C8.81,2.38 9.80,1.57 10.78,1.16C11.77,0.75 13.25,0.03 13.91,0.00C14.57,-0.03 14.66,0.48 14.75,0.97C14.84,1.45 14.56,2.33 14.47,2.90C14.38,3.47 14.03,3.95 14.19,4.39C14.35,4.83 15.14,5.04 15.44,5.55C15.74,6.05 16.08,6.78 16.00,7.42C15.92,8.05 15.48,8.92 14.96,9.35C14.43,9.78 13.57,10.02 12.87,10.00C12.17,9.98 11.48,9.60 10.78,9.23C10.09,8.85 9.39,7.80 8.70,7.74C8.00,7.69 7.36,8.58 6.61,8.90C5.86,9.23 4.99,9.60 4.17,9.68C3.36,9.75 2.38,9.68 1.74,9.35C1.10,9.03 0.64,8.44 0.35,7.74C0.06,7.04 0.00,5.97 0.00,5.16C0.00,4.35 0.17,3.49 0.35,2.90C0.52,2.31 0.52,1.97 1.04,1.61Z" transform="translate(171.5,223.6) scale(1.031,1.000)" fill="#64a073" stroke="#5a5a5a" stroke-width="0.7"/>
<text x="194.5" y="231.3" font-size="7.6" fill="#1a1a1a" stroke="#1a1a1a" stroke-width="0.15">4 - 6</text>
<path d="M1.04,1.61C1.57,1.26 2.67,0.77 3.48,0.77C4.29,0.77 5.16,1.33 5.91,1.61C6.67,1.89 7.19,2.53 8.00,2.45C8.81,2.38 9.80,1.57 10.78,1.16C11.77,0.75 13.25,0.03 13.91,0.00C14.57,-0.03 14.66,0.48 14.75,0.97C14.84,1.45 14.56,2.33 14.47,2.90C14.38,3.47 14.03,3.95 14.19,4.39C14.35,4.83 15.14,5.04 15.44,5.55C15.74,6.05 16.08,6.78 16.00,7.42C15.92,8.05 15.48,8.92 14.96,9.35C14.43,9.78 13.57,10.02 12.87,10.00C12.17,9.98 11.48,9.60 10.78,9.23C10.09,8.85 9.39,7.80 8.70,7.74C8.00,7.69 7.36,8.58 6.61,8.90C5.86,9.23 4.99,9.60 4.17,9.68C3.36,9.75 2.38,9.68 1.74,9.35C1.10,9.03 0.64,8.44 0.35,7.74C0.06,7.04 0.00,5.97 0.00,5.16C0.00,4.35 0.17,3.49 0.35,2.90C0.52,2.31 0.52,1.97 1.04,1.61Z" transform="translate(171.5,237.2) scale(1.031,1.000)" fill="#2e7840" stroke="#5a5a5a" stroke-width="0.7"/>
<text x="194.5" y="245.0" font-size="7.6" fill="#1a1a1a" stroke="#1a1a1a" stroke-width="0.15">&gt; 6</text>
<use href="#dots"/>
<g><rect x="9.45" y="9.9" width="238" height="254.55" fill="none" stroke="#1c1c1c" stroke-width="1.15"/>
<path d="M13.6,9.4v-2.2M10.1,265v2.2" stroke="#111" stroke-width="1.2"/>
<text x="5.1" y="6.4" font-size="5.3" fill="#222" textLength="17.2" lengthAdjust="spacingAndGlyphs">35°35'E</text>
<text x="1.8" y="272.3" font-size="5.3" fill="#222" textLength="17.2" lengthAdjust="spacingAndGlyphs">35°35'E</text>
<path d="M68.6,9.4v-2.2M65.1,265v2.2" stroke="#111" stroke-width="1.2"/>
<text x="60.1" y="6.4" font-size="5.3" fill="#222" textLength="17.2" lengthAdjust="spacingAndGlyphs">35°40'E</text>
<text x="56.8" y="272.3" font-size="5.3" fill="#222" textLength="17.2" lengthAdjust="spacingAndGlyphs">35°40'E</text>
<path d="M123.6,9.4v-2.2M120.1,265v2.2" stroke="#111" stroke-width="1.2"/>
<text x="115.1" y="6.4" font-size="5.3" fill="#222" textLength="17.2" lengthAdjust="spacingAndGlyphs">35°45'E</text>
<text x="111.8" y="272.3" font-size="5.3" fill="#222" textLength="17.2" lengthAdjust="spacingAndGlyphs">35°45'E</text>
<path d="M178.6,9.4v-2.2M175.1,265v2.2" stroke="#111" stroke-width="1.2"/>
<text x="170.1" y="6.4" font-size="5.3" fill="#222" textLength="17.2" lengthAdjust="spacingAndGlyphs">35°50'E</text>
<text x="166.8" y="272.3" font-size="5.3" fill="#222" textLength="17.2" lengthAdjust="spacingAndGlyphs">35°50'E</text>
<path d="M233.6,9.4v-2.2M230.1,265v2.2" stroke="#111" stroke-width="1.2"/>
<text x="225.1" y="6.4" font-size="5.3" fill="#222" textLength="17.2" lengthAdjust="spacingAndGlyphs">35°55'E</text>
<text x="221.8" y="272.3" font-size="5.3" fill="#222" textLength="17.2" lengthAdjust="spacingAndGlyphs">35°55'E</text>
<path d="M8.9,49.6h-2.2M248,52.3h2.2" stroke="#111" stroke-width="1.2"/>
<text transform="translate(5.8,49.6) rotate(-90)" x="-8.8" font-size="5.3" fill="#222" textLength="17.6" lengthAdjust="spacingAndGlyphs">32°24'N</text>
<text transform="translate(254.5,52.6) rotate(-90)" x="-8.8" font-size="5.3" fill="#222" textLength="17.6" lengthAdjust="spacingAndGlyphs">32°24'N</text>
<path d="M8.9,101.5h-2.2M248,104.2h2.2" stroke="#111" stroke-width="1.2"/>
<text transform="translate(5.8,101.5) rotate(-90)" x="-8.8" font-size="5.3" fill="#222" textLength="17.6" lengthAdjust="spacingAndGlyphs">32°20'N</text>
<text transform="translate(254.5,104.5) rotate(-90)" x="-8.8" font-size="5.3" fill="#222" textLength="17.6" lengthAdjust="spacingAndGlyphs">32°20'N</text>
<path d="M8.9,153.4h-2.2M248,156.1h2.2" stroke="#111" stroke-width="1.2"/>
<text transform="translate(5.8,153.4) rotate(-90)" x="-8.8" font-size="5.3" fill="#222" textLength="17.6" lengthAdjust="spacingAndGlyphs">32°16'N</text>
<text transform="translate(254.5,156.4) rotate(-90)" x="-8.8" font-size="5.3" fill="#222" textLength="17.6" lengthAdjust="spacingAndGlyphs">32°16'N</text>
<path d="M8.9,205.3h-2.2M248,208.0h2.2" stroke="#111" stroke-width="1.2"/>
<text transform="translate(5.8,205.3) rotate(-90)" x="-8.8" font-size="5.3" fill="#222" textLength="17.6" lengthAdjust="spacingAndGlyphs">32°12'N</text>
<text transform="translate(254.5,208.3) rotate(-90)" x="-8.8" font-size="5.3" fill="#222" textLength="17.6" lengthAdjust="spacingAndGlyphs">32°12'N</text>
<path d="M8.9,257.2h-2.2M248,259.9h2.2" stroke="#111" stroke-width="1.2"/>
<text transform="translate(5.8,257.2) rotate(-90)" x="-7.5" font-size="5.3" fill="#222" textLength="14.9" lengthAdjust="spacingAndGlyphs">32°8'N</text>
<text transform="translate(254.5,260.2) rotate(-90)" x="-7.5" font-size="5.3" fill="#222" textLength="14.9" lengthAdjust="spacingAndGlyphs">32°8'N</text>
<rect x="17" y="19.3" width="2" height="2" fill="#000"/>
<rect x="17" y="29.7" width="2" height="2" fill="#1e58dc"/>
<text x="28.8" y="23.3" font-size="8.1" fill="#111" stroke="#111" stroke-width="0.22" textLength="85" lengthAdjust="spacingAndGlyphs">Forest fire for validating</text>
<text x="28.8" y="33.7" font-size="8.1" fill="#111" stroke="#111" stroke-width="0.22" textLength="77" lengthAdjust="spacingAndGlyphs">Forest fire for training</text>
<g transform="translate(225.7,31.3)">
<path d="M0,-9.6L1.1,-2.6L-1.1,-2.6ZM0,9.6L1.1,2.6L-1.1,2.6ZM-9.6,0L-2.6,-1.1L-2.6,1.1ZM9.6,0L2.6,-1.1L2.6,1.1Z" fill="#1a1a1a"/>
<path d="M0,-9.6V9.6M-9.6,0H9.6" stroke="#1a1a1a" stroke-width="0.5"/>
<circle r="3.7" fill="#fff" stroke="#1a1a1a" stroke-width="0.8"/>
<path d="M0,0L0,-3.7A3.7,3.7 0 0 1 3.7,0ZM0,0L0,3.7A3.7,3.7 0 0 1 -3.7,0Z" fill="#111"/>
<path d="M0,-3.7V3.7M-3.7,0H3.7" stroke="#1a1a1a" stroke-width="0.4"/>
<text x="0.2" y="-11.1" font-family="Liberation Serif, serif" font-weight="bold" font-size="5" text-anchor="middle" fill="#111">N</text><text x="0.2" y="14.5" font-family="Liberation Serif, serif" font-weight="bold" font-size="5" text-anchor="middle" fill="#111">S</text><text x="-12.6" y="1.6" font-family="Liberation Serif, serif" font-weight="bold" font-size="5" text-anchor="middle" fill="#111">W</text><text x="11.8" y="1.7" font-family="Liberation Serif, serif" font-weight="bold" font-size="5" text-anchor="middle" fill="#111">E</text>
</g>
<path d="M166.5,128.0h57.4M166.90,128.0v4.2M173.98,128.0v4.2M181.06,128.0v4.2M188.14,128.0v2.6M195.22,128.0v4.2M202.30,128.0v2.6M209.38,128.0v4.2M216.46,128.0v2.6M223.54,128.0v4.2" stroke="#222" stroke-width="0.9" fill="none"/>
<text x="166.9" y="138.9" font-size="5" text-anchor="middle" fill="#222">0</text>
<text x="174.0" y="138.9" font-size="5" text-anchor="middle" fill="#222">1</text>
<text x="181.1" y="138.9" font-size="5" text-anchor="middle" fill="#222">2</text>
<text x="195.2" y="138.9" font-size="5" text-anchor="middle" fill="#222">4</text>
<text x="209.4" y="138.9" font-size="5" text-anchor="middle" fill="#222">6</text>
<text x="223.5" y="138.9" font-size="5" text-anchor="middle" fill="#222">8</text>
<text x="226.5" y="138.9" font-size="5" fill="#222">Km</text></g>
<text x="126.9" y="24.6" font-size="9.2" font-weight="bold" font-style="italic" fill="#111" stroke="#111" stroke-width="0.15">(h)</text>
</g>
</svg></body></html>
